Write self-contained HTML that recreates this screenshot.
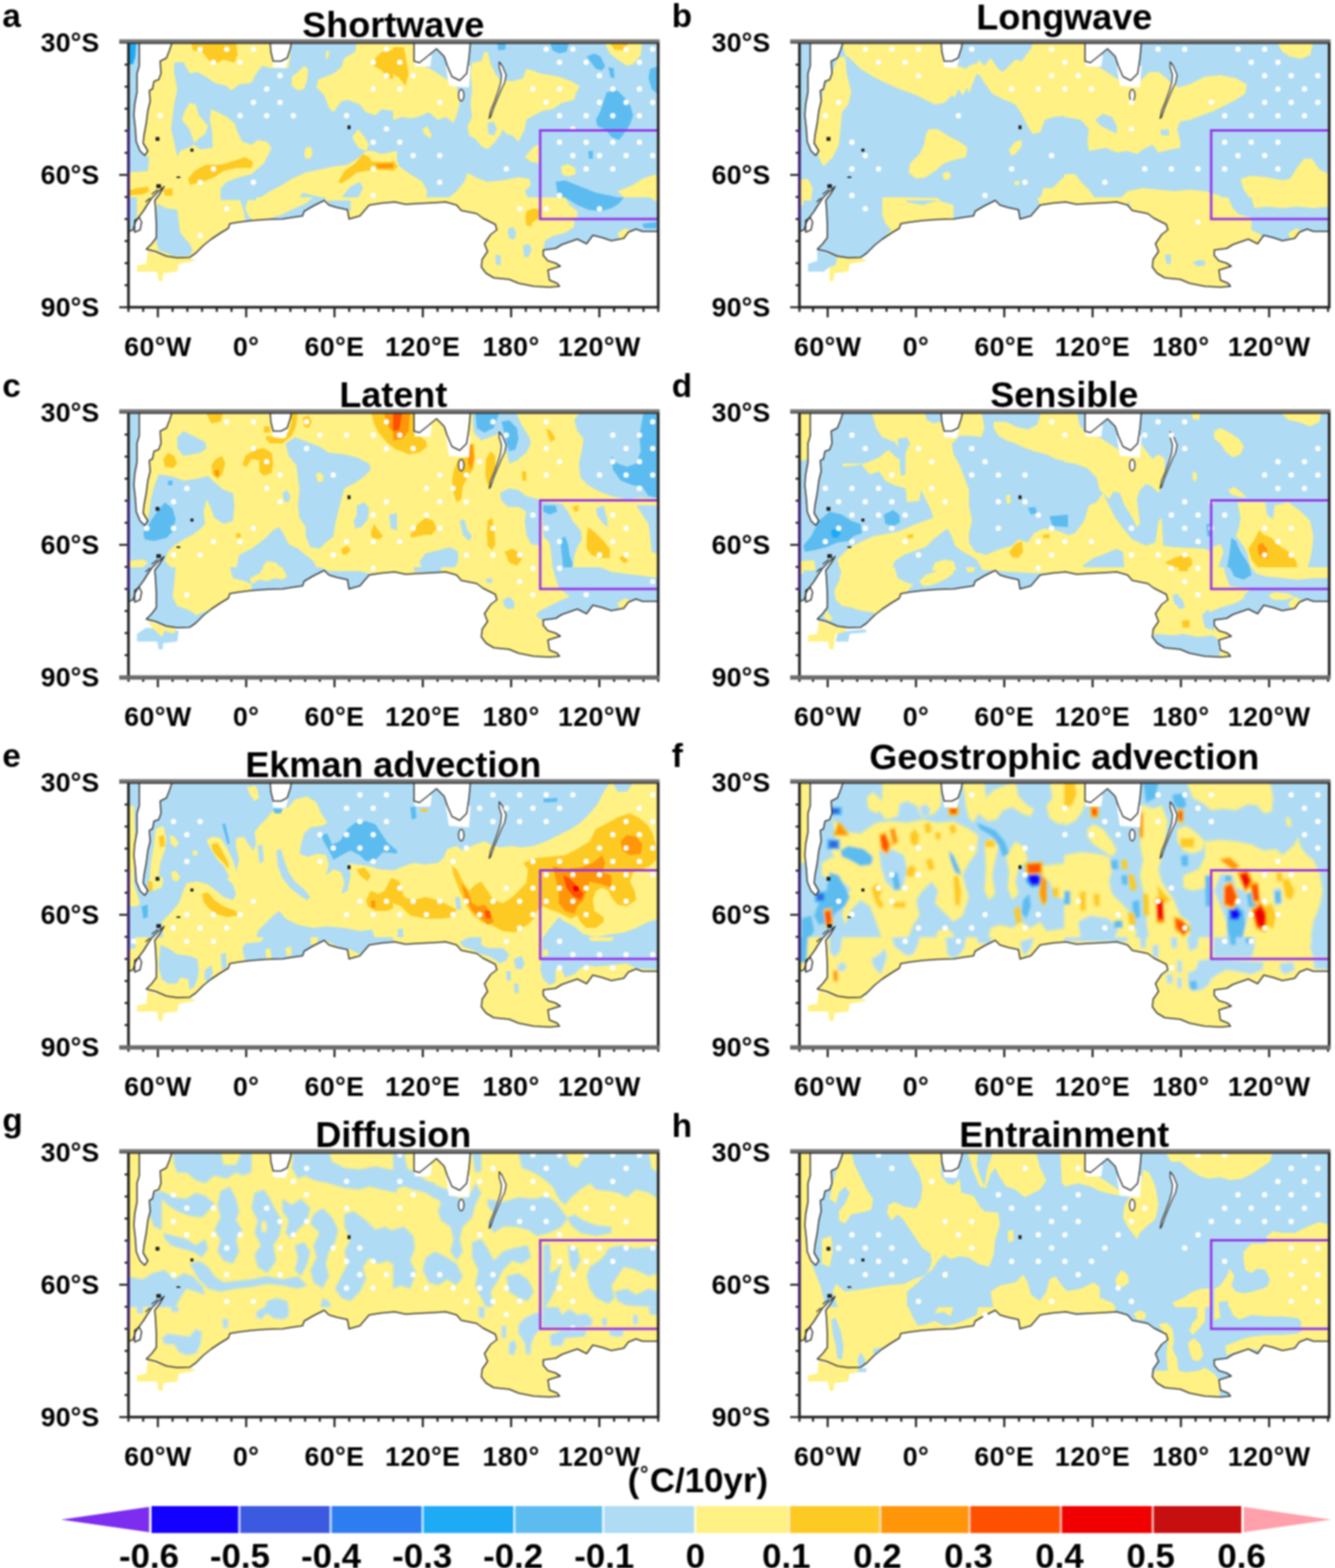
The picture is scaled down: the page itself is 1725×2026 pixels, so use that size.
<!DOCTYPE html>
<html lang="en"><head><meta charset="utf-8"><title>Heat budget trends</title>
<style>html,body{margin:0;padding:0;background:#fff}body{width:1725px;height:2026px;overflow:hidden}svg{display:block;filter:blur(0.85px)}text{font-family:"Liberation Sans",sans-serif;font-weight:bold;fill:#000}.t{font-size:34.5px;letter-spacing:0.6px}.ti{font-size:46.5px}.l{font-size:43px}.cb{font-size:45px}</style>
</head><body>
<svg width="1725" height="2026" viewBox="0 0 1725 2026">
<defs>
<clipPath id="clip"><rect x="0" y="0" width="684.5" height="342"/></clipPath>
<filter id="blf" x="-5%" y="-5%" width="110%" height="110%"><feGaussianBlur stdDeviation="1.8"/></filter>
<filter id="blg" x="-5%" y="-5%" width="110%" height="110%"><feGaussianBlur stdDeviation="1.2"/></filter>
<g id="land">
<g fill="#fff" stroke="none">
<polygon points="-2,245 6,242 9,232 13,226 19,218 24,210 30,201 38,193 46,186 40,196 34,204 35,215 36,235 36,252 30,260 23,267 35,270 49,276 63,278 79,277.6 87,272 97,262 107,254 119,246 129,240 131,234 143,232 159,230 179,228.4 199,228 211,226 225,224 227,218 239,211 253,204 259,210 269,213 283,216 285,228 299,224 311,210 327,207.6 344,206 358,209 374,208 394,207 410,206 424,210 430,217 450,221 458,227 474,235 476,242 468,248 460,260 464,270 457,280 456,290 462,298 472,304 492,306 504,311 524,315 544,316 557,315 554,311 544,307 542,294 558,289 552,285 542,282 536,275 536,268 552,266 560,261 580,254 592,260 600,249 612,252 624,256 640,253 646,245 656,241 664,244 682,244 688,244 688,345 -2,345"/>
<polygon points="57,-2 53,10 49,20 41,24 42,40 39,48 33,50 31,60 27,62 28,76 25,88 23,104 20,120 19,130 25,140 21,146 21,146 15,140 10,128 9,112 7,94 8,80 11,64 11,40 14,30 14,-2"/>
<polygon points="183,-2 184,12 187,24 197,24 205,20 209,8 211,-2"/>
<polygon points="184,10 187,32 203,33 207,20"/>
<polygon points="369,-2 369,24 376,26 386,18 398,8 408,18 412,30 418,44 428,49 437,40 440,20 442,-2"/>
<polygon points="369,20 370,31 390,31 392,16"/>
<polygon points="410,30 414,56 440,58 442,30"/>
<polygon points="479,25 483,30 488,42 486,52 482,60 477,72 472,84 468,96 466,98 468,88 473,76 478,62 481,52 482,42 479,32"/>
<ellipse cx="430" cy="68" rx="4" ry="8"/>
</g>
</g>
<g id="coast">
<g fill="none" stroke="#2a2a2a" stroke-width="1.55" stroke-linejoin="round">
<polyline points="-2,245 6,242 9,232 13,226 19,218 24,210 30,201 38,193 46,186 40,196 34,204 35,215 36,235 36,252 30,260 23,267 35,270 49,276 63,278 79,277.6 87,272 97,262 107,254 119,246 129,240 131,234 143,232 159,230 179,228.4 199,228 211,226 225,224 227,218 239,211 253,204 259,210 269,213 283,216 285,228 299,224 311,210 327,207.6 344,206 358,209 374,208 394,207 410,206 424,210 430,217 450,221 458,227 474,235 476,242 468,248 460,260 464,270 457,280 456,290 462,298 472,304 492,306 504,311 524,315 544,316 557,315 554,311 544,307 542,294 558,289 552,285 542,282 536,275 536,268 552,266 560,261 580,254 592,260 600,249 612,252 624,256 640,253 646,245 656,241 664,244 682,244 688,244"/>
<polyline points="57,-2 53,10 49,20 41,24 42,40 39,48 33,50 31,60 27,62 28,76 25,88 23,104 20,120 19,130 25,140 21,146"/>
<polyline points="14,-2 14,30 11,40 11,64 8,80 7,94 9,112 10,128 15,140 21,146"/>
<polyline points="183,-2 184,12 187,24 197,24 205,20 209,8 211,-2"/>
<polyline points="369,-2 369,24 376,26 386,18 398,8 408,18 412,30 418,44 428,49 437,40 440,20 442,-2"/>
<polygon points="479,25 483,30 488,42 486,52 482,60 477,72 472,84 468,96 466,98 468,88 473,76 478,62 481,52 482,42 479,32" stroke-width="1.3"/>
<ellipse cx="430" cy="68" rx="3.5" ry="7.5" stroke-width="1.4"/>
<path d="M8,230 l6,-4 3,6 -2,10 -7,3 z M22,206 l6,-5 M30,196 l8,-6"/>
</g>
<g fill="#222"><rect x="35" y="122" width="5" height="5"/><rect x="80" y="137" width="4" height="4"/><rect x="283" y="107" width="4" height="5"/><rect x="62" y="173" width="5" height="2"/><rect x="36" y="183" width="6" height="5"/></g>
</g>
<g id="ax0"><path d="M0.0 342 v6 M19.0 342 v6 M38.0 342 v13 M57.0 342 v6 M76.1 342 v6 M95.1 342 v6 M114.1 342 v6 M133.1 342 v6 M152.1 342 v13 M171.1 342 v6 M190.1 342 v6 M209.2 342 v6 M228.2 342 v6 M247.2 342 v6 M266.2 342 v13 M285.2 342 v6 M304.2 342 v6 M323.2 342 v6 M342.2 342 v6 M361.3 342 v6 M380.3 342 v13 M399.3 342 v6 M418.3 342 v6 M437.3 342 v6 M456.3 342 v6 M475.3 342 v6 M494.4 342 v13 M513.4 342 v6 M532.4 342 v6 M551.4 342 v6 M570.4 342 v6 M589.4 342 v6 M608.4 342 v13 M627.5 342 v6 M646.5 342 v6 M665.5 342 v6 M684.5 342 v6 M0 0.0 h-12 M0 28.5 h-5 M0 57.0 h-5 M0 85.5 h-5 M0 114.0 h-5 M0 142.5 h-5 M0 171.0 h-12 M0 199.5 h-5 M0 228.0 h-5 M0 256.5 h-5 M0 285.0 h-5 M0 313.5 h-5 M0 342.0 h-12" stroke="#1c1c1c" stroke-width="2.6" fill="none"/>
<rect x="0" y="0" width="684.5" height="342" fill="none" stroke="#222" stroke-width="3.4"/>
<rect x="-12" y="-4.2" width="698.2" height="4.4" fill="#757575"/>
</g>
<g id="ax1"><path d="M0.0 342 v6 M17.5 342 v6 M36.5 342 v13 M55.5 342 v6 M74.6 342 v6 M93.6 342 v6 M112.6 342 v6 M131.6 342 v6 M150.6 342 v13 M169.6 342 v6 M188.6 342 v6 M207.7 342 v6 M226.7 342 v6 M245.7 342 v6 M264.7 342 v13 M283.7 342 v6 M302.7 342 v6 M321.7 342 v6 M340.8 342 v6 M359.8 342 v6 M378.8 342 v13 M397.8 342 v6 M416.8 342 v6 M435.8 342 v6 M454.8 342 v6 M473.8 342 v6 M492.9 342 v13 M511.9 342 v6 M530.9 342 v6 M549.9 342 v6 M568.9 342 v6 M587.9 342 v6 M606.9 342 v13 M626.0 342 v6 M645.0 342 v6 M664.0 342 v6 M683.0 342 v6 M0 0.0 h-12 M0 28.5 h-5 M0 57.0 h-5 M0 85.5 h-5 M0 114.0 h-5 M0 142.5 h-5 M0 171.0 h-12 M0 199.5 h-5 M0 228.0 h-5 M0 256.5 h-5 M0 285.0 h-5 M0 313.5 h-5 M0 342.0 h-12" stroke="#1c1c1c" stroke-width="2.6" fill="none"/>
<rect x="0" y="0" width="684.5" height="342" fill="none" stroke="#222" stroke-width="3.4"/>
<rect x="-12" y="-4.2" width="698.2" height="4.4" fill="#757575"/>
</g>
<g id="box"><path d="M683 113.5H532V228H683" fill="none" stroke="#962ee8" stroke-width="3"/><path d="M0 112 V230" stroke="#47287f" stroke-width="3.2" fill="none"/></g>
</defs>
<g transform="translate(166 55)">
<g clip-path="url(#clip)">
<rect x="0" y="0" width="685" height="342" fill="#afdcf4"/>
<g>
<path fill="#fff183" d="M-3.0 -2.0L347.0 -2.0L347.0 204.0L-3.0 204.0Z"/>
<path fill="#afdcf4" d="M59.0 26.0L71.0 25.0L79.0 40.0L89.0 38.0L103.0 46.0L111.0 52.0L127.0 56.0L133.0 62.0L143.0 54.0L159.0 52.0L165.0 40.0L173.0 30.0L183.0 33.0L207.0 33.0L211.0 -2.0L295.0 -2.0L293.0 12.0L279.0 20.0L275.0 32.0L265.0 40.0L245.0 48.0L243.0 58.0L253.0 68.0L259.0 84.0L265.0 90.0L275.0 76.0L283.0 74.0L299.0 80.0L307.0 90.0L319.0 94.0L327.0 86.0L339.0 88.0L347.0 88.0L347.0 140.0L327.0 144.0L315.0 140.0L307.0 140.0L299.0 148.0L283.0 158.0L265.0 160.0L247.0 164.0L229.0 168.0L211.0 176.0L199.0 184.0L183.0 192.0L171.0 200.0L165.0 204.0L119.0 204.0L119.0 188.0L127.0 180.0L143.0 174.0L159.0 170.0L175.0 156.0L179.0 148.0L185.0 136.0L179.0 128.0L167.0 126.0L159.0 132.0L147.0 128.0L141.0 116.0L137.0 104.0L127.0 96.0L119.0 92.0L107.0 86.0L105.0 100.0L108.0 114.0L109.0 136.0L93.0 138.0L85.0 132.0L77.0 136.0L67.0 140.0L63.0 148.0L59.0 128.0L55.0 112.0L57.0 96.0L59.0 80.0L63.0 60.0L59.0 40.0Z"/>
<path fill="#fff183" d="M79.0 78.0L87.0 80.0L91.0 94.0L103.0 108.0L99.0 118.0L91.0 124.0L85.0 130.0L79.0 112.0L69.0 100.0L73.0 88.0ZM211.0 44.0L219.0 38.0L227.0 30.0L232.0 34.0L231.0 48.0L227.0 60.0L219.0 62.0L211.0 56.0ZM229.0 136.0L235.0 134.0L238.0 142.0L235.0 150.0L229.0 150.0L227.0 143.0ZM289.0 122.0L297.0 112.0L305.0 122.0L311.0 132.0L307.0 140.0L297.0 136.0ZM255.0 12.0L259.0 10.0L259.0 18.0L255.0 22.0Z"/>
<path fill="#afdcf4" d="M-3.0 -2.0L14.0 -2.0L13.0 40.0L9.0 80.0L8.0 112.0L11.0 130.0L21.0 146.0L27.0 148.0L25.0 166.0L-3.0 168.0Z"/>
<path fill="#1eaaf5" d="M-3.0 -2.0L10.0 -2.0L9.0 18.0L6.0 28.0L-3.0 28.0Z"/>
<path fill="#afdcf4" d="M219.0 204.0L225.0 194.0L249.0 200.0L275.0 200.0L287.0 186.0L299.0 180.0L303.0 188.0L295.0 204.0Z"/>
<path fill="#fdca24" d="M81.0 -2.0L139.0 -2.0L141.0 16.0L137.0 26.0L123.0 22.0L111.0 28.0L103.0 22.0L95.0 12.0L83.0 10.0ZM319.0 20.0L327.0 12.0L347.0 8.0L347.0 48.0L335.0 46.0L327.0 36.0L317.0 30.0ZM77.0 176.0L85.0 166.0L99.0 158.0L119.0 158.0L139.0 152.0L151.0 148.0L161.0 154.0L159.0 162.0L139.0 162.0L123.0 166.0L111.0 174.0L95.0 180.0L79.0 184.0ZM271.0 180.0L279.0 166.0L293.0 156.0L303.0 144.0L311.0 148.0L315.0 154.0L347.0 154.0L347.0 166.0L319.0 164.0L307.0 166.0L295.0 168.0L285.0 176.0L275.0 182.0Z"/>
<path fill="#ff960a" d="M319.0 157.0L347.0 156.0L347.0 162.0L323.0 162.4Z"/>
<path fill="#fdca24" d="M-3.0 192.0L11.0 188.0L25.0 186.0L27.0 192.0L19.0 196.0L-3.0 198.0ZM45.0 190.0L57.0 188.0L57.0 198.0L47.0 198.0Z"/>
<path fill="#fff183" d="M342.0 -2.0L370.0 -2.0L370.0 26.0L390.0 34.0L412.0 48.0L424.0 56.0L428.0 80.0L424.0 94.0L420.0 104.0L410.0 96.0L400.0 100.0L388.0 90.0L374.0 96.0L364.0 98.0L354.0 96.0L342.0 100.0Z"/>
<path fill="#fdca24" d="M342.0 6.0L356.0 6.0L362.0 40.0L358.0 56.0L350.0 46.0L342.0 40.0Z"/>
<path fill="#fff183" d="M444.0 26.0L456.0 24.0L460.0 12.0L464.0 12.0L468.0 28.0L474.0 40.0L480.0 48.0L496.0 50.0L510.0 46.0L514.0 34.0L522.0 36.0L532.0 40.0L556.0 44.0L572.0 50.0L583.0 56.0L578.0 66.0L576.0 74.0L560.0 78.0L548.0 86.0L536.0 88.0L520.0 96.0L514.0 100.0L512.0 112.0L504.0 128.0L496.0 120.0L488.0 118.0L484.0 112.0L480.0 120.0L474.0 128.0L464.0 138.0L456.0 134.0L448.0 124.0L440.0 120.0L438.0 108.0L444.0 96.0L442.0 80.0L444.0 60.0L442.0 40.0Z"/>
<path fill="#afdcf4" d="M464.0 104.0L472.0 102.0L476.0 112.0L472.0 120.0L465.0 118.0Z"/>
<path fill="#fff183" d="M380.0 112.0L386.0 108.0L392.0 120.0L390.0 124.0L382.0 118.0ZM512.0 148.0L524.0 134.0L530.0 132.0L530.0 156.0L520.0 154.0ZM559.0 160.0L568.0 157.0L577.0 162.0L578.0 170.0L568.0 173.0L560.0 170.0ZM342.0 140.0L350.0 160.0L364.0 170.0L380.0 180.0L386.0 192.0L384.0 204.0L342.0 204.0Z"/>
<path fill="#fdca24" d="M342.0 152.0L348.0 160.0L342.0 166.0Z"/>
<path fill="#fff183" d="M410.0 204.0L424.0 192.0L434.0 180.0L438.0 168.0L448.0 174.0L464.0 180.0L484.0 178.0L504.0 174.0L518.0 176.0L520.0 184.0L512.0 192.0L518.0 204.0ZM632.0 192.0L652.0 184.0L664.0 176.0L682.0 170.0L686.0 204.0L644.0 204.0ZM614.0 -2.0L664.0 -2.0L662.0 16.0L652.0 28.0L644.0 30.0L632.0 22.0L622.0 14.0Z"/>
<path fill="#fdca24" d="M620.0 -2.0L648.0 -2.0L640.0 10.0L628.0 9.0Z"/>
<path fill="#5cbcf0" d="M476.0 -2.0L488.0 -2.0L487.0 9.0L478.0 10.0ZM544.0 -2.0L570.0 -2.0L566.0 12.0L556.0 14.0L548.0 10.0ZM592.0 18.0L602.0 14.0L610.0 18.0L616.0 30.0L612.0 36.0L604.0 34.0L598.0 26.0ZM620.0 32.0L627.0 33.0L628.0 46.0L623.0 45.0ZM674.0 34.0L686.0 30.0L686.0 68.0L676.0 60.0L672.0 46.0ZM618.0 64.0L632.0 62.0L640.0 70.0L648.0 80.0L652.0 94.0L648.0 106.0L640.0 118.0L634.0 126.0L624.0 122.0L616.0 112.0L606.0 108.0L604.0 100.0L610.0 88.0L614.0 76.0ZM552.0 180.0L564.0 178.0L584.0 186.0L604.0 194.0L624.0 198.0L644.0 204.0L556.0 204.0L554.0 192.0ZM594.0 140.0L600.0 140.0L600.0 150.0L595.0 150.0Z"/>
<path fill="#fff183" d="M-3.0 200.0L347.0 200.0L347.0 406.0L-3.0 406.0Z"/>
<path fill="#afdcf4" d="M37.0 208.0L49.0 214.0L63.0 216.0L65.0 232.0L67.0 246.0L79.0 260.0L83.0 268.0L79.0 276.0L59.0 276.0L39.0 268.0L35.0 254.0L36.0 222.0ZM143.0 200.0L155.0 200.0L151.0 214.0L155.0 224.0L161.0 230.0L151.0 230.0L149.0 218.0ZM179.0 228.0L199.0 222.0L215.0 214.0L229.0 208.0L239.0 200.0L255.0 200.0L253.0 206.0L239.0 212.0L227.0 218.0L225.0 224.0L199.0 228.0ZM257.0 204.0L287.0 204.0L287.0 218.0L283.0 216.0L269.0 213.0L259.0 210.0ZM-3.0 200.0L11.0 200.0L11.0 222.0L7.0 242.0L-3.0 245.0ZM119.0 200.0L165.0 200.0L165.0 203.6L119.0 203.6Z"/>
<path fill="#fff183" d="M342.0 200.0L692.0 200.0L692.0 406.0L342.0 406.0Z"/>
<path fill="#afdcf4" d="M686.0 200.0L686.0 270.0L536.0 270.0L538.0 256.0L548.0 250.0L564.0 246.0L576.0 238.0L576.0 224.0L564.0 218.0L556.0 210.0L544.0 200.0Z"/>
<path fill="#fff183" d="M534.0 200.0L564.0 200.0L570.0 210.0L580.0 218.0L580.0 226.0L534.0 226.0Z"/>
<path fill="#5cbcf0" d="M640.0 200.0L634.0 208.0L624.0 214.0L610.0 218.0L594.0 216.0L580.0 210.0L564.0 200.0Z"/>
<path fill="#fff183" d="M674.0 200.0L686.0 200.0L686.0 208.0Z"/>
<path fill="#5cbcf0" d="M664.0 234.0L682.0 232.0L682.0 240.0L666.0 240.0Z"/>
<path fill="#afdcf4" d="M491.0 240.0L497.0 238.0L501.0 246.0L499.0 254.0L493.0 254.0L490.0 247.0ZM510.0 262.0L518.0 260.0L521.0 268.0L516.0 278.0L511.0 276.0ZM474.0 274.0L481.0 275.0L481.0 288.0L475.0 287.0Z"/>
<path fill="#fdca24" d="M514.0 218.0L524.0 214.0L531.0 216.0L530.0 228.0L522.0 232.0L520.0 238.0L514.0 236.0L513.0 226.0Z"/>
<path fill="#fff183" d="M632.0 246.0L642.0 240.0L650.0 244.0L644.0 254.0L634.0 254.0Z"/>
</g>
<use href="#land"/>
<path fill="#fff183" d="M25.0 269.0L49.0 277.0L79.0 278.0L87.0 282.0L65.0 286.0L63.0 296.0L45.0 298.0L44.0 308.0L39.0 308.0L37.0 296.0L11.0 296.0L11.0 288.0L23.0 286.0Z"/>
<use href="#coast"/>
<path d="M92.6 8.4h0M127.0 8.4h0M161.4 8.4h0M333.4 8.4h0M539.8 8.4h0M574.2 8.4h0M643.0 8.4h0M677.4 8.4h0M109.8 25.6h0M144.2 25.6h0M316.2 25.6h0M350.6 25.6h0M557.0 25.6h0M591.4 25.6h0M660.2 25.6h0M195.8 42.8h0M333.4 42.8h0M367.8 42.8h0M608.6 42.8h0M178.6 60.0h0M316.2 60.0h0M350.6 60.0h0M522.6 60.0h0M557.0 60.0h0M625.8 60.0h0M660.2 60.0h0M161.4 77.2h0M195.8 77.2h0M402.2 77.2h0M539.8 77.2h0M608.6 77.2h0M643.0 77.2h0M677.4 77.2h0M41.0 94.4h0M144.2 94.4h0M178.6 94.4h0M213.0 94.4h0M281.8 94.4h0M557.0 94.4h0M591.4 94.4h0M625.8 94.4h0M660.2 94.4h0M333.4 111.6h0M574.2 111.6h0M316.2 128.8h0M350.6 128.8h0M557.0 128.8h0M591.4 128.8h0M625.8 128.8h0M660.2 128.8h0M367.8 146.0h0M402.2 146.0h0M574.2 146.0h0M608.6 146.0h0M643.0 146.0h0M677.4 146.0h0M109.8 163.2h0M316.2 163.2h0M488.2 163.2h0M591.4 163.2h0M625.8 163.2h0M92.6 180.4h0M161.4 180.4h0M402.2 180.4h0M316.2 197.6h0M557.0 197.6h0M127.0 214.8h0M505.4 214.8h0M539.8 214.8h0M608.6 214.8h0M92.6 249.2h0" stroke="#fff" stroke-width="7" stroke-linecap="round" fill="none"/>
</g>
<use href="#ax0"/>
<use href="#box"/>
<text class="t" x="-37.5" y="11.6" text-anchor="end" style="letter-spacing:0.2px">30°S</text>
<text class="t" x="-37.5" y="182.6" text-anchor="end" style="letter-spacing:0.2px">60°S</text>
<text class="t" x="-37.5" y="353.6" text-anchor="end" style="letter-spacing:0.2px">90°S</text>
<text class="t" x="38.0" y="404.5" text-anchor="middle">60°W</text>
<text class="t" x="152.1" y="404.5" text-anchor="middle">0°</text>
<text class="t" x="266.2" y="404.5" text-anchor="middle">60°E</text>
<text class="t" x="380.3" y="404.5" text-anchor="middle">120°E</text>
<text class="t" x="494.4" y="404.5" text-anchor="middle">180°</text>
<text class="t" x="608.4" y="404.5" text-anchor="middle">120°W</text>
<text class="ti" x="342.2" y="-7" text-anchor="middle">Shortwave</text>
<text class="l" x="-163" y="-20">a</text>
</g>
<g transform="translate(1033 55)">
<g clip-path="url(#clip)">
<rect x="0" y="0" width="685" height="342" fill="#afdcf4"/>
<g>
<path fill="#fff183" d="M183.0 -2.0L187.0 30.0L205.0 30.0L215.0 34.0L219.0 30.0L231.0 26.0L229.0 40.0L225.0 50.0L219.0 66.0L217.0 58.0L211.0 68.0L205.0 60.0L201.0 71.0L197.0 68.0L187.0 78.0L175.0 80.0L163.0 74.0L151.0 68.0L129.0 60.0L111.0 52.0L95.0 44.0L79.0 34.0L65.0 20.0L59.0 16.0L55.0 -2.0ZM231.0 22.0L239.0 30.0L247.0 20.0L257.0 34.0L263.0 38.0L279.0 22.0L287.0 24.0L299.0 8.0L303.0 -2.0L347.0 -2.0L347.0 94.0L329.0 96.0L317.0 100.0L311.0 116.0L301.0 118.0L295.0 108.0L287.0 92.0L279.0 80.0L265.0 74.0L249.0 66.0L239.0 52.0L233.0 42.0L229.0 41.0ZM49.0 20.0L59.0 18.0L61.0 40.0L67.0 64.0L63.0 80.0L55.0 90.0L53.0 112.0L51.0 132.0L43.0 148.0L31.0 160.0L25.0 148.0L19.0 130.0L23.0 104.0L28.0 76.0L31.0 60.0L42.0 40.0ZM167.0 112.0L179.0 112.0L191.0 120.0L207.0 128.0L217.0 136.0L215.0 148.0L199.0 152.0L187.0 156.0L175.0 166.0L163.0 174.0L151.0 176.0L141.0 168.0L143.0 156.0L155.0 144.0L161.0 132.0L163.0 120.0ZM186.0 168.0L193.0 167.0L196.0 172.0L193.0 177.0L187.0 177.0L185.0 172.0ZM271.0 138.0L279.0 128.0L287.0 126.0L287.0 134.0L279.0 144.0L273.0 146.0ZM278.0 179.0L284.0 179.0L284.0 184.0L278.0 184.0ZM311.0 204.0L315.0 188.0L327.0 188.0L339.0 176.0L347.0 170.0L347.0 204.0ZM-3.0 178.0L11.0 176.0L17.0 188.0L15.0 204.0L-3.0 204.0ZM107.0 204.0L111.0 201.0L139.0 200.0L179.0 201.0L183.0 204.0ZM342.0 -2.0L369.0 -2.0L369.0 26.0L388.0 32.0L412.0 48.0L440.0 58.0L440.0 50.0L452.0 38.0L464.0 38.0L474.0 46.0L480.0 52.0L490.0 58.0L504.0 54.0L524.0 44.0L544.0 42.0L564.0 46.0L578.0 54.0L576.0 66.0L564.0 74.0L552.0 80.0L536.0 88.0L520.0 94.0L504.0 100.0L492.0 102.0L488.0 112.0L492.0 128.0L492.0 136.0L480.0 138.0L464.0 142.0L456.0 132.0L444.0 138.0L436.0 144.0L424.0 140.0L410.0 142.0L396.0 136.0L374.0 140.0L372.0 128.0L374.0 112.0L364.0 100.0L342.0 96.0Z"/>
<path fill="#afdcf4" d="M382.0 100.0L392.0 92.0L404.0 96.0L410.0 108.0L410.0 118.0L402.0 114.0L390.0 108.0ZM466.0 113.0L477.0 112.0L478.0 120.0L468.0 120.0Z"/>
<path fill="#fff183" d="M664.0 -2.0L660.0 16.0L648.0 21.0L634.0 18.0L624.0 12.0L616.0 -2.0ZM342.0 170.0L356.0 170.0L364.0 180.0L374.0 190.0L384.0 204.0L342.0 204.0ZM412.0 204.0L424.0 192.0L444.0 188.0L464.0 190.0L484.0 192.0L504.0 190.0L524.0 192.0L544.0 198.0L544.0 204.0ZM570.0 176.0L584.0 172.0L604.0 174.0L624.0 178.0L634.0 176.0L644.0 160.0L652.0 150.0L662.0 150.0L672.0 164.0L684.0 170.0L684.0 204.0L584.0 204.0L574.0 190.0ZM135.0 200.0L139.0 206.0L159.0 210.0L179.0 204.0L199.0 210.0L199.0 230.0L159.0 234.0L139.0 242.0L111.0 262.0L91.0 272.0L99.0 262.0L111.0 250.0L119.0 242.0L111.0 234.0L107.0 222.0L107.0 200.0ZM-3.0 200.0L5.0 200.0L5.0 210.0L-3.0 212.0ZM307.0 200.0L347.0 200.0L347.0 208.0L311.0 210.0ZM342.0 200.0L424.0 200.0L424.0 210.0L410.0 208.0L374.0 210.0L358.0 211.0L342.0 208.0ZM424.0 200.0L584.0 200.0L584.0 212.0L684.0 212.0L684.0 200.0L554.0 200.0L560.0 214.0L568.0 222.0L584.0 226.0L584.0 242.0L596.0 248.0L604.0 262.0L544.0 322.0L452.0 322.0L452.0 242.0L428.0 214.0Z"/>
<path fill="#afdcf4" d="M584.0 200.0L588.0 214.0L604.0 212.0L624.0 214.0L644.0 212.0L664.0 214.0L684.0 212.0L684.0 246.0L644.0 262.0L604.0 262.0L596.0 248.0L584.0 242.0L584.0 226.0L568.0 222.0L560.0 214.0L554.0 200.0Z"/>
<path fill="#fff183" d="M584.0 200.0L684.0 200.0L684.0 212.0L664.0 214.0L644.0 212.0L624.0 214.0L604.0 212.0L588.0 214.0ZM632.0 246.0L642.0 240.0L650.0 244.0L644.0 254.0L634.0 254.0Z"/>
<path fill="#afdcf4" d="M472.0 274.0L480.0 274.0L480.0 286.0L474.0 286.0ZM508.0 284.0L516.0 281.0L524.0 282.0L524.0 288.0L514.0 289.0Z"/>
</g>
<use href="#land"/>
<path fill="#afdcf4" d="M23.0 268.0L49.0 277.0L47.0 288.0L39.0 290.0L31.0 296.0L11.0 296.0L11.0 286.0L23.0 282.0Z"/>
<path fill="#fff183" d="M49.0 277.0L79.0 278.0L87.0 282.0L65.0 286.0L63.0 296.0L45.0 298.0L44.0 308.0L39.0 308.0L39.0 290.0L47.0 288.0Z"/>
<use href="#coast"/>
<path d="M85.0 8.4h0M119.4 8.4h0M153.8 8.4h0M222.6 8.4h0M325.8 8.4h0M463.4 8.4h0M497.8 8.4h0M566.6 8.4h0M601.0 8.4h0M102.2 25.6h0M136.6 25.6h0M343.0 25.6h0M583.8 25.6h0M618.2 25.6h0M153.8 42.8h0M325.8 42.8h0M360.2 42.8h0M601.0 42.8h0M635.4 42.8h0M669.8 42.8h0M274.2 60.0h0M308.6 60.0h0M343.0 60.0h0M377.4 60.0h0M618.2 60.0h0M652.6 60.0h0M50.6 77.2h0M429.0 77.2h0M532.2 77.2h0M601.0 77.2h0M635.4 77.2h0M669.8 77.2h0M33.4 94.4h0M205.4 94.4h0M549.4 94.4h0M583.8 94.4h0M618.2 94.4h0M652.6 94.4h0M429.0 111.6h0M67.8 128.8h0M549.4 128.8h0M583.8 128.8h0M618.2 128.8h0M85.0 146.0h0M325.8 146.0h0M566.6 146.0h0M601.0 146.0h0M67.8 163.2h0M102.2 163.2h0M274.2 163.2h0M446.2 163.2h0M480.6 163.2h0M515.0 163.2h0M549.4 163.2h0M618.2 163.2h0M291.4 180.4h0M394.6 180.4h0M67.8 197.6h0M239.8 197.6h0M85.0 214.8h0M515.0 232.0h0" stroke="#fff" stroke-width="7" stroke-linecap="round" fill="none"/>
</g>
<use href="#ax1"/>
<use href="#box"/>
<text class="t" x="-37.5" y="11.6" text-anchor="end" style="letter-spacing:0.2px">30°S</text>
<text class="t" x="-37.5" y="182.6" text-anchor="end" style="letter-spacing:0.2px">60°S</text>
<text class="t" x="-37.5" y="353.6" text-anchor="end" style="letter-spacing:0.2px">90°S</text>
<text class="t" x="36.5" y="404.5" text-anchor="middle">60°W</text>
<text class="t" x="150.6" y="404.5" text-anchor="middle">0°</text>
<text class="t" x="264.7" y="404.5" text-anchor="middle">60°E</text>
<text class="t" x="378.8" y="404.5" text-anchor="middle">120°E</text>
<text class="t" x="492.9" y="404.5" text-anchor="middle">180°</text>
<text class="t" x="606.9" y="404.5" text-anchor="middle">120°W</text>
<text class="ti" x="342.2" y="-17" text-anchor="middle">Longwave</text>
<text class="l" x="-165" y="-20">b</text>
</g>
<g transform="translate(166 533)">
<g clip-path="url(#clip)">
<rect x="0" y="0" width="685" height="342" fill="#fff183"/>
<g>
<path fill="#afdcf4" d="M63.0 32.0L71.0 24.0L83.0 30.0L99.0 38.0L101.0 46.0L93.0 52.0L83.0 54.0L71.0 56.0L63.0 46.0ZM39.0 80.0L55.0 82.0L71.0 88.0L87.0 86.0L103.0 82.0L111.0 90.0L123.0 100.0L135.0 104.0L137.0 120.0L135.0 140.0L123.0 144.0L111.0 136.0L105.0 120.0L101.0 112.0L97.0 128.0L99.0 144.0L91.0 152.0L83.0 158.0L71.0 164.0L59.0 172.0L51.0 180.0L47.0 192.0L59.0 204.0L-3.0 204.0L-3.0 -2.0L14.0 -2.0L13.0 40.0L9.0 80.0L8.0 112.0L11.0 130.0L21.0 146.0L25.0 140.0L29.0 112.0L33.0 96.0Z"/>
<path fill="#5cbcf0" d="M19.0 156.0L29.0 140.0L37.0 128.0L47.0 116.0L57.0 124.0L61.0 138.0L57.0 154.0L49.0 162.0L33.0 166.0L21.0 164.0ZM51.0 88.0L57.0 88.0L57.0 94.0L51.0 94.0Z"/>
<path fill="#fff183" d="M-3.0 192.0L19.0 190.0L25.0 194.0L19.0 200.0L-3.0 200.0Z"/>
<path fill="#afdcf4" d="M203.0 40.0L215.0 32.0L231.0 38.0L247.0 44.0L259.0 52.0L279.0 54.0L295.0 58.0L311.0 66.0L313.0 74.0L303.0 84.0L291.0 92.0L279.0 98.0L275.0 112.0L271.0 128.0L267.0 144.0L265.0 160.0L255.0 168.0L247.0 176.0L235.0 174.0L229.0 160.0L229.0 148.0L221.0 136.0L219.0 120.0L221.0 100.0L219.0 84.0L217.0 68.0L207.0 56.0Z"/>
<path fill="#fff183" d="M242.0 80.0L247.0 77.0L252.0 82.0L251.0 89.0L245.0 90.0Z"/>
<path fill="#afdcf4" d="M199.0 104.0L205.0 100.0L209.0 108.0L207.0 116.0L201.0 115.0ZM139.0 204.0L143.0 184.0L159.0 176.0L175.0 164.0L187.0 152.0L195.0 148.0L201.0 158.0L207.0 170.0L219.0 176.0L229.0 184.0L239.0 192.0L245.0 204.0L199.0 204.0L191.0 194.0L179.0 192.0L169.0 204.0ZM295.0 120.0L305.0 116.0L311.0 124.0L309.0 138.0L301.0 148.0L293.0 150.0L291.0 140.0L295.0 132.0ZM337.0 132.0L347.0 130.0L347.0 152.0L339.0 150.0Z"/>
<path fill="#fdca24" d="M99.0 -2.0L123.0 -2.0L119.0 12.0L107.0 14.0ZM207.0 -2.0L219.0 -2.0L217.0 16.0L211.0 30.0L199.0 40.0L183.0 40.0L177.0 34.0L179.0 30.0L199.0 34.0L207.0 24.0L211.0 12.0ZM175.0 18.0L183.0 18.0L183.0 26.0L175.0 26.0ZM225.0 6.0L233.0 4.0L237.0 12.0L233.0 20.0L227.0 18.0ZM313.0 -2.0L347.0 -2.0L347.0 48.0L335.0 40.0L323.0 26.0L317.0 14.0Z"/>
<path fill="#ff960a" d="M329.0 -2.0L347.0 -2.0L347.0 30.0L337.0 20.0Z"/>
<path fill="#fdca24" d="M45.0 60.0L51.0 52.0L59.0 56.0L63.0 66.0L57.0 72.0L47.0 70.0ZM107.0 68.0L113.0 60.0L121.0 56.0L125.0 66.0L121.0 80.0L115.0 86.0L109.0 80.0Z"/>
<path fill="#ff960a" d="M111.0 75.0L117.0 74.0L117.0 82.0L112.0 82.0Z"/>
<path fill="#fdca24" d="M147.0 68.0L151.0 56.0L163.0 48.0L175.0 46.0L185.0 52.0L187.0 66.0L185.0 78.0L175.0 82.0L169.0 76.0L169.0 62.0L159.0 60.0L153.0 70.0ZM313.0 156.0L317.0 144.0L323.0 152.0L329.0 160.0L323.0 164.0L315.0 162.0ZM275.0 176.0L283.0 172.0L287.0 178.0L281.0 184.0L276.0 183.0ZM139.0 156.0L145.0 156.0L145.0 162.0L139.0 162.0Z"/>
<path fill="#afdcf4" d="M444.0 -2.0L500.0 -2.0L508.0 16.0L518.0 32.0L520.0 40.0L514.0 52.0L502.0 62.0L492.0 66.0L488.0 48.0L482.0 26.0L472.0 30.0L456.0 36.0L446.0 26.0Z"/>
<path fill="#5cbcf0" d="M448.0 -2.0L480.0 -2.0L472.0 20.0L460.0 26.0L450.0 20.0ZM482.0 12.0L492.0 10.0L502.0 20.0L504.0 34.0L500.0 48.0L492.0 50.0L488.0 36.0Z"/>
<path fill="#afdcf4" d="M576.0 10.0L584.0 -2.0L692.0 -2.0L692.0 112.0L664.0 110.0L644.0 112.0L624.0 108.0L608.0 102.0L594.0 94.0L584.0 84.0L582.0 66.0L586.0 48.0L588.0 34.0L580.0 24.0Z"/>
<path fill="#5cbcf0" d="M666.0 -2.0L692.0 -2.0L692.0 112.0L672.0 108.0L664.0 96.0L652.0 94.0L636.0 88.0L626.0 74.0L624.0 56.0L632.0 66.0L644.0 70.0L656.0 66.0L662.0 50.0L660.0 30.0Z"/>
<path fill="#afdcf4" d="M480.0 104.0L492.0 98.0L504.0 100.0L514.0 108.0L530.0 112.0L532.0 124.0L532.0 172.0L520.0 170.0L514.0 158.0L512.0 140.0L514.0 128.0L504.0 122.0L490.0 122.0L482.0 114.0ZM534.0 116.0L560.0 118.0L568.0 128.0L574.0 140.0L584.0 152.0L586.0 164.0L580.0 174.0L576.0 186.0L574.0 204.0L548.0 204.0L546.0 180.0L544.0 168.0L536.0 160.0Z"/>
<path fill="#5cbcf0" d="M536.0 120.0L552.0 120.0L554.0 128.0L544.0 132.0L536.0 128.0ZM558.0 164.0L564.0 160.0L568.0 170.0L570.0 184.0L574.0 196.0L572.0 204.0L562.0 204.0L560.0 184.0Z"/>
<path fill="#afdcf4" d="M604.0 124.0L614.0 120.0L618.0 136.0L620.0 148.0L614.0 144.0L606.0 134.0ZM656.0 120.0L686.0 120.0L686.0 184.0L676.0 180.0L674.0 160.0L672.0 144.0L664.0 132.0ZM376.0 192.0L384.0 182.0L400.0 178.0L416.0 174.0L426.0 180.0L426.0 192.0L420.0 204.0L380.0 204.0ZM428.0 140.0L434.0 138.0L438.0 152.0L444.0 160.0L440.0 166.0L432.0 158.0Z"/>
<path fill="#fdca24" d="M342.0 -2.0L370.0 -2.0L370.0 26.0L384.0 36.0L386.0 44.0L376.0 52.0L362.0 54.0L352.0 50.0L342.0 46.0Z"/>
<path fill="#ff960a" d="M342.0 -2.0L364.0 -2.0L362.0 24.0L354.0 34.0L342.0 36.0Z"/>
<path fill="#ff5000" d="M342.0 -2.0L354.0 -2.0L350.0 22.0L342.0 24.0Z"/>
<path fill="#fdca24" d="M420.0 76.0L426.0 60.0L436.0 58.0L440.0 40.0L446.0 40.0L448.0 56.0L446.0 72.0L438.0 84.0L432.0 96.0L430.0 112.0L424.0 116.0L420.0 104.0L418.0 88.0Z"/>
<path fill="#ff960a" d="M439.0 42.0L445.0 42.0L446.0 60.0L443.0 74.0L439.0 66.0Z"/>
<path fill="#fdca24" d="M462.0 60.0L468.0 50.0L474.0 56.0L474.0 76.0L470.0 90.0L464.0 94.0L461.0 80.0ZM540.0 20.0L546.0 24.0L552.0 34.0L546.0 38.0L542.0 30.0ZM508.0 76.0L514.0 76.0L514.0 88.0L509.0 88.0ZM374.0 144.0L384.0 136.0L394.0 140.0L398.0 150.0L392.0 158.0L382.0 158.0L366.0 162.0L364.0 158.0ZM464.0 140.0L470.0 136.0L473.0 152.0L474.0 170.0L470.0 178.0L464.0 172.0L463.0 156.0ZM486.0 180.0L496.0 176.0L506.0 182.0L508.0 190.0L502.0 198.0L492.0 194.0ZM594.0 148.0L604.0 156.0L614.0 166.0L622.0 176.0L622.0 188.0L610.0 188.0L598.0 184.0L592.0 176.0L592.0 160.0ZM634.0 188.0L640.0 184.0L646.0 192.0L640.0 195.0ZM574.0 121.0L582.0 120.0L581.0 128.0L576.0 128.0Z"/>
<path fill="#afdcf4" d="M-3.0 200.0L347.0 200.0L347.0 406.0L-3.0 406.0Z"/>
<path fill="#fff183" d="M61.0 200.0L131.0 200.0L135.0 214.0L151.0 218.0L159.0 222.0L159.0 230.0L143.0 232.0L131.0 234.0L129.0 240.0L107.0 254.0L87.0 262.0L83.0 258.0L75.0 254.0L63.0 250.0L57.0 238.0L59.0 222.0ZM157.0 214.0L169.0 208.0L175.0 200.0L199.0 200.0L205.0 212.0L199.0 216.0L189.0 214.0L179.0 218.0L169.0 216.0L159.0 222.0ZM249.0 200.0L347.0 200.0L347.0 206.0L311.0 208.0L299.0 205.0L259.0 205.0ZM342.0 200.0L692.0 200.0L692.0 406.0L342.0 406.0Z"/>
<path fill="#afdcf4" d="M610.0 200.0L624.0 206.0L656.0 210.0L672.0 212.0L686.0 214.0L686.0 270.0L536.0 270.0L526.0 262.0L532.0 256.0L544.0 250.0L560.0 242.0L570.0 238.0L556.0 226.0L552.0 214.0L548.0 200.0ZM484.0 242.0L492.0 238.0L499.0 245.0L498.0 253.0L490.0 254.0L485.0 249.0ZM462.0 215.0L470.0 214.0L470.0 220.0L463.0 220.0ZM368.0 200.0L404.0 200.0L404.0 207.0L370.0 206.0Z"/>
<path fill="#fff183" d="M632.0 246.0L642.0 240.0L650.0 244.0L644.0 254.0L634.0 254.0Z"/>
</g>
<use href="#land"/>
<path fill="#afdcf4" d="M23.0 278.0L65.0 282.0L63.0 296.0L45.0 298.0L44.0 306.0L39.0 306.0L37.0 296.0L11.0 296.0L11.0 286.0Z"/>
<path fill="#fff183" d="M25.0 269.0L49.0 277.0L61.0 278.0L59.0 286.0L47.0 282.0L43.0 290.0L35.0 282.0L29.0 276.0Z"/>
<use href="#coast"/>
<path d="M127.0 12.0h0M161.4 12.0h0M230.2 12.0h0M333.4 12.0h0M471.0 12.0h0M539.8 12.0h0M677.4 12.0h0M247.4 29.2h0M281.8 29.2h0M316.2 29.2h0M350.6 29.2h0M488.2 29.2h0M625.8 29.2h0M660.2 29.2h0M161.4 46.4h0M230.2 46.4h0M333.4 46.4h0M367.8 46.4h0M539.8 46.4h0M643.0 46.4h0M677.4 46.4h0M178.6 63.6h0M453.8 63.6h0M557.0 63.6h0M625.8 63.6h0M660.2 63.6h0M195.8 80.8h0M264.6 80.8h0M402.2 80.8h0M436.6 80.8h0M539.8 80.8h0M608.6 80.8h0M643.0 80.8h0M677.4 80.8h0M75.4 98.0h0M178.6 98.0h0M385.0 98.0h0M419.4 98.0h0M660.2 98.0h0M58.2 115.2h0M195.8 115.2h0M333.4 115.2h0M402.2 115.2h0M436.6 115.2h0M316.2 132.4h0M385.0 132.4h0M522.6 132.4h0M625.8 132.4h0M23.8 149.6h0M58.2 149.6h0M161.4 149.6h0M367.8 149.6h0M402.2 149.6h0M471.0 149.6h0M539.8 149.6h0M643.0 149.6h0M109.8 166.8h0M144.2 166.8h0M281.8 166.8h0M316.2 166.8h0M350.6 166.8h0M557.0 166.8h0M625.8 166.8h0M58.2 184.0h0M92.6 184.0h0M264.6 184.0h0M436.6 184.0h0M471.0 184.0h0M505.4 184.0h0M608.6 184.0h0M643.0 184.0h0M316.2 201.2h0M522.6 201.2h0M557.0 201.2h0M505.4 218.4h0M677.4 218.4h0M75.4 235.6h0M522.6 235.6h0M591.4 235.6h0" stroke="#fff" stroke-width="7" stroke-linecap="round" fill="none"/>
</g>
<use href="#ax0"/>
<rect x="-12" y="339.6" width="698.2" height="5.6" fill="#6a6a6a"/>
<use href="#box"/>
<text class="t" x="-37.5" y="11.6" text-anchor="end" style="letter-spacing:0.2px">30°S</text>
<text class="t" x="-37.5" y="182.6" text-anchor="end" style="letter-spacing:0.2px">60°S</text>
<text class="t" x="-37.5" y="353.6" text-anchor="end" style="letter-spacing:0.2px">90°S</text>
<text class="t" x="38.0" y="404.5" text-anchor="middle">60°W</text>
<text class="t" x="152.1" y="404.5" text-anchor="middle">0°</text>
<text class="t" x="266.2" y="404.5" text-anchor="middle">60°E</text>
<text class="t" x="380.3" y="404.5" text-anchor="middle">120°E</text>
<text class="t" x="494.4" y="404.5" text-anchor="middle">180°</text>
<text class="t" x="608.4" y="404.5" text-anchor="middle">120°W</text>
<text class="ti" x="342.2" y="-7" text-anchor="middle">Latent</text>
<text class="l" x="-163" y="-20">c</text>
</g>
<g transform="translate(1033 533)">
<g clip-path="url(#clip)">
<rect x="0" y="0" width="685" height="342" fill="#afdcf4"/>
<g>
<path fill="#fff183" d="M-3.0 -2.0L14.0 -2.0L13.0 40.0L11.0 60.0L-3.0 64.0ZM235.0 -2.0L239.0 20.0L235.0 32.0L223.0 30.0L207.0 30.0L197.0 40.0L199.0 54.0L207.0 68.0L213.0 84.0L219.0 100.0L219.0 120.0L223.0 140.0L219.0 156.0L219.0 168.0L227.0 180.0L241.0 184.0L255.0 178.0L275.0 172.0L283.0 164.0L295.0 168.0L303.0 156.0L315.0 150.0L331.0 152.0L347.0 158.0L347.0 204.0L53.0 204.0L49.0 190.0L65.0 174.0L95.0 160.0L127.0 154.0L151.0 144.0L173.0 136.0L169.0 124.0L157.0 100.0L155.0 114.0L139.0 116.0L137.0 98.0L123.0 94.0L111.0 88.0L103.0 76.0L91.0 80.0L79.0 66.0L55.0 66.0L57.0 70.0L75.0 68.0L89.0 64.0L103.0 58.0L115.0 48.0L127.0 60.0L135.0 56.0L123.0 38.0L107.0 32.0L99.0 20.0L93.0 -2.0Z"/>
<path fill="#afdcf4" d="M119.0 204.0L123.0 192.0L135.0 184.0L151.0 178.0L163.0 174.0L173.0 164.0L183.0 156.0L191.0 150.0L197.0 160.0L201.0 172.0L211.0 180.0L219.0 184.0L229.0 190.0L237.0 204.0L203.0 204.0L199.0 192.0L187.0 190.0L175.0 194.0L171.0 204.0ZM161.0 -2.0L183.0 -2.0L183.0 12.0L173.0 14.0L165.0 10.0ZM127.0 34.0L139.0 32.0L143.0 40.0L137.0 52.0L137.0 80.0L131.0 82.0L129.0 60.0Z"/>
<path fill="#fff183" d="M251.0 12.0L267.0 12.0L279.0 18.0L295.0 22.0L307.0 16.0L313.0 -2.0L347.0 -2.0L347.0 64.0L331.0 60.0L319.0 54.0L303.0 50.0L287.0 44.0L279.0 40.0L267.0 36.0L257.0 30.0L251.0 20.0ZM267.0 107.0L272.0 106.0L273.0 117.0L268.0 118.0Z"/>
<path fill="#5cbcf0" d="M25.0 140.0L39.0 128.0L55.0 132.0L67.0 140.0L79.0 144.0L81.0 156.0L69.0 160.0L65.0 166.0L49.0 168.0L35.0 174.0L19.0 178.0L7.0 180.0L5.0 172.0L15.0 160.0L21.0 148.0Z"/>
<path fill="#1eaaf5" d="M41.0 152.0L49.0 150.0L53.0 156.0L49.0 162.0L42.0 161.0Z"/>
<path fill="#5cbcf0" d="M109.0 132.0L121.0 126.0L129.0 132.0L130.0 142.0L121.0 147.0L111.0 144.0ZM295.0 123.0L305.0 122.0L307.0 130.0L299.0 132.0ZM323.0 134.0L347.0 132.0L347.0 148.0L327.0 147.0Z"/>
<path fill="#fff183" d="M-3.0 192.0L19.0 191.0L21.0 204.0L-3.0 204.0Z"/>
<path fill="#fdca24" d="M139.0 158.0L147.0 157.0L147.0 162.0L140.0 162.4ZM271.0 180.0L279.0 170.0L287.0 166.0L289.0 180.0L283.0 188.0L275.0 187.0ZM314.0 158.0L323.0 157.0L323.0 162.4L315.0 162.4Z"/>
<path fill="#fff183" d="M342.0 -2.0L358.0 -2.0L362.0 16.0L369.0 26.0L388.0 32.0L412.0 48.0L428.0 56.0L440.0 54.0L442.0 40.0L448.0 50.0L456.0 60.0L464.0 54.0L472.0 60.0L472.0 80.0L468.0 96.0L464.0 104.0L456.0 96.0L448.0 92.0L440.0 100.0L436.0 112.0L438.0 128.0L440.0 144.0L436.0 148.0L428.0 132.0L420.0 120.0L414.0 104.0L406.0 102.0L400.0 112.0L388.0 100.0L384.0 84.0L372.0 72.0L356.0 66.0L342.0 64.0ZM342.0 160.0L356.0 156.0L368.0 140.0L374.0 120.0L384.0 116.0L392.0 104.0L402.0 124.0L408.0 136.0L420.0 152.0L430.0 164.0L448.0 172.0L460.0 168.0L464.0 140.0L468.0 136.0L470.0 172.0L484.0 174.0L524.0 176.0L532.0 180.0L532.0 204.0L420.0 204.0L418.0 180.0L410.0 176.0L396.0 182.0L380.0 188.0L368.0 196.0L364.0 204.0L342.0 204.0ZM536.0 24.0L544.0 20.0L556.0 26.0L568.0 34.0L574.0 44.0L570.0 54.0L560.0 58.0L550.0 50.0L544.0 40.0L536.0 34.0ZM508.0 78.0L512.0 76.0L514.0 84.0L511.0 90.0L508.0 86.0ZM554.0 100.0L562.0 96.0L572.0 104.0L578.0 110.0L568.0 109.0L558.0 106.0ZM620.0 -2.0L674.0 -2.0L672.0 12.0L660.0 18.0L644.0 12.0L632.0 10.0ZM506.0 -2.0L518.0 -2.0L516.0 10.0L508.0 8.0ZM566.0 116.0L602.0 116.0L604.0 132.0L612.0 138.0L614.0 120.0L632.0 116.0L648.0 128.0L660.0 140.0L664.0 160.0L662.0 180.0L656.0 204.0L584.0 204.0L578.0 180.0L572.0 170.0L564.0 160.0L568.0 148.0L570.0 136.0ZM534.0 174.0L544.0 170.0L548.0 180.0L544.0 192.0L540.0 204.0L534.0 204.0Z"/>
<path fill="#5cbcf0" d="M552.0 204.0L556.0 180.0L558.0 162.0L564.0 166.0L570.0 180.0L578.0 192.0L584.0 204.0ZM526.0 144.0L532.0 144.0L532.0 160.0L527.0 160.0Z"/>
<path fill="#fdca24" d="M580.0 176.0L588.0 164.0L594.0 152.0L600.0 158.0L610.0 162.0L620.0 172.0L632.0 180.0L642.0 192.0L644.0 204.0L596.0 204.0L584.0 190.0Z"/>
<path fill="#ff960a" d="M592.0 172.0L598.0 168.0L604.0 176.0L606.0 188.0L598.0 188.0L593.0 182.0Z"/>
<path fill="#fdca24" d="M472.0 194.0L484.0 188.0L496.0 184.0L506.0 188.0L508.0 196.0L500.0 204.0L484.0 200.0Z"/>
<path fill="#fff183" d="M55.0 200.0L123.0 200.0L127.0 214.0L139.0 220.0L147.0 222.0L139.0 232.0L131.0 234.0L129.0 240.0L107.0 254.0L99.0 260.0L93.0 258.0L79.0 256.0L67.0 252.0L55.0 250.0L47.0 242.0L45.0 230.0L51.0 218.0ZM155.0 218.0L163.0 210.0L179.0 204.0L199.0 200.0L199.0 208.0L191.0 214.0L179.0 220.0L167.0 224.0L159.0 224.0ZM215.0 200.0L227.0 200.0L225.0 206.0L217.0 206.0ZM247.0 200.0L347.0 200.0L347.0 207.0L311.0 208.0L259.0 205.0ZM31.0 264.0L35.0 256.0L43.0 266.0L39.0 270.0ZM-3.0 200.0L5.0 200.0L5.0 208.0L-3.0 210.0ZM342.0 200.0L692.0 200.0L692.0 406.0L342.0 406.0Z"/>
<path fill="#afdcf4" d="M584.0 200.0L590.0 208.0L604.0 212.0L624.0 214.0L644.0 216.0L664.0 214.0L686.0 214.0L686.0 230.0L644.0 230.0L624.0 228.0L584.0 228.0L556.0 224.0L552.0 214.0L548.0 200.0Z"/>
<path fill="#5cbcf0" d="M556.0 200.0L582.0 200.0L584.0 210.0L574.0 216.0L562.0 212.0Z"/>
<path fill="#afdcf4" d="M576.0 234.0L584.0 228.0L624.0 228.0L644.0 230.0L686.0 230.0L686.0 270.0L536.0 270.0L524.0 264.0L530.0 258.0L544.0 252.0L564.0 246.0L574.0 240.0Z"/>
<path fill="#fff183" d="M606.0 236.0L614.0 232.0L632.0 234.0L640.0 238.0L628.0 242.0L612.0 242.0ZM632.0 246.0L640.0 238.0L648.0 242.0L644.0 254.0L634.0 254.0Z"/>
<path fill="#afdcf4" d="M460.0 286.0L484.0 288.0L496.0 286.0L514.0 290.0L534.0 288.0L542.0 294.0L544.0 322.0L524.0 322.0L504.0 311.0L492.0 306.0L472.0 304.0L462.0 298.0L456.0 290.0ZM482.0 236.0L488.0 234.0L496.0 244.0L498.0 252.0L492.0 254.0L484.0 246.0ZM520.0 262.0L528.0 254.0L536.0 268.0L536.0 282.0L524.0 278.0Z"/>
<path fill="#fdca24" d="M494.0 269.0L504.0 268.0L504.0 278.0L495.0 278.0ZM490.0 200.0L502.0 200.0L502.0 205.0L490.0 205.0Z"/>
</g>
<use href="#land"/>
<path fill="#fff183" d="M25.0 269.0L49.0 277.0L61.0 279.0L59.0 284.0L47.0 286.0L45.0 296.0L44.0 306.0L39.0 306.0L37.0 296.0L11.0 296.0L11.0 288.0L23.0 286.0Z"/>
<path fill="#afdcf4" d="M49.0 286.0L63.0 282.0L85.0 280.0L87.0 284.0L65.0 286.0L63.0 296.0L47.0 296.0Z"/>
<use href="#coast"/>
<path d="M325.8 12.0h0M463.4 12.0h0M497.8 12.0h0M67.8 29.2h0M343.0 29.2h0M446.2 29.2h0M480.6 29.2h0M85.0 46.4h0M153.8 46.4h0M222.6 46.4h0M497.8 46.4h0M669.8 46.4h0M171.0 63.6h0M239.8 63.6h0M618.2 63.6h0M652.6 63.6h0M119.4 80.8h0M222.6 80.8h0M257.0 80.8h0M291.4 80.8h0M601.0 80.8h0M635.4 80.8h0M669.8 80.8h0M33.4 98.0h0M67.8 98.0h0M102.2 98.0h0M171.0 98.0h0M618.2 98.0h0M652.6 98.0h0M50.6 115.2h0M85.0 115.2h0M119.4 115.2h0M188.2 115.2h0M257.0 115.2h0M291.4 115.2h0M497.8 115.2h0M532.2 115.2h0M67.8 132.4h0M102.2 132.4h0M136.6 132.4h0M308.6 132.4h0M480.6 132.4h0M515.0 132.4h0M549.4 132.4h0M50.6 149.6h0M85.0 149.6h0M119.4 149.6h0M257.0 149.6h0M325.8 149.6h0M429.0 149.6h0M497.8 149.6h0M532.2 149.6h0M601.0 149.6h0M635.4 149.6h0M33.4 166.8h0M67.8 166.8h0M136.6 166.8h0M308.6 166.8h0M343.0 166.8h0M377.4 166.8h0M515.0 166.8h0M618.2 166.8h0M153.8 184.0h0M325.8 184.0h0M429.0 184.0h0M463.4 184.0h0M497.8 184.0h0M601.0 184.0h0M635.4 184.0h0M308.6 201.2h0M480.6 201.2h0M515.0 201.2h0M497.8 218.4h0M515.0 235.6h0" stroke="#fff" stroke-width="7" stroke-linecap="round" fill="none"/>
</g>
<use href="#ax1"/>
<rect x="-12" y="339.6" width="698.2" height="5.6" fill="#6a6a6a"/>
<use href="#box"/>
<text class="t" x="-37.5" y="11.6" text-anchor="end" style="letter-spacing:0.2px">30°S</text>
<text class="t" x="-37.5" y="182.6" text-anchor="end" style="letter-spacing:0.2px">60°S</text>
<text class="t" x="-37.5" y="353.6" text-anchor="end" style="letter-spacing:0.2px">90°S</text>
<text class="t" x="36.5" y="404.5" text-anchor="middle">60°W</text>
<text class="t" x="150.6" y="404.5" text-anchor="middle">0°</text>
<text class="t" x="264.7" y="404.5" text-anchor="middle">60°E</text>
<text class="t" x="378.8" y="404.5" text-anchor="middle">120°E</text>
<text class="t" x="492.9" y="404.5" text-anchor="middle">180°</text>
<text class="t" x="606.9" y="404.5" text-anchor="middle">120°W</text>
<text class="ti" x="342.2" y="-7" text-anchor="middle">Sensible</text>
<text class="l" x="-165" y="-20">d</text>
</g>
<g transform="translate(166 1011)">
<g clip-path="url(#clip)">
<rect x="0" y="0" width="685" height="342" fill="#afdcf4"/>
<g>
<path fill="#fff183" d="M-3.0 30.0L7.0 30.0L9.0 80.0L7.0 130.0L11.0 144.0L15.0 156.0L11.0 160.0L-3.0 160.0ZM35.0 60.0L45.0 56.0L49.0 72.0L47.0 88.0L41.0 104.0L39.0 120.0L45.0 124.0L43.0 136.0L31.0 140.0L27.0 128.0L29.0 104.0L33.0 80.0Z"/>
<path fill="#fdca24" d="M39.0 70.0L46.0 68.0L47.0 82.0L41.0 84.0ZM25.0 128.0L31.0 128.0L31.0 140.0L26.0 140.0Z"/>
<path fill="#fff183" d="M53.0 68.0L59.0 70.0L65.0 78.0L61.0 84.0L55.0 80.0ZM55.0 116.0L61.0 114.0L67.0 122.0L63.0 128.0L57.0 126.0ZM83.0 88.0L89.0 88.0L89.0 94.0L83.0 94.0ZM101.0 74.0L109.0 70.0L119.0 72.0L127.0 84.0L133.0 96.0L139.0 112.0L137.0 124.0L129.0 120.0L123.0 108.0L115.0 100.0L109.0 90.0L103.0 80.0Z"/>
<path fill="#fdca24" d="M107.0 80.0L115.0 78.0L121.0 88.0L129.0 104.0L129.0 112.0L123.0 104.0L115.0 96.0L109.0 88.0Z"/>
<path fill="#fff183" d="M153.0 6.0L165.0 4.0L169.0 20.0L163.0 24.0L157.0 16.0ZM139.0 72.0L149.0 70.0L155.0 80.0L161.0 88.0L165.0 80.0L163.0 64.0L169.0 56.0L179.0 46.0L185.0 38.0L207.0 32.0L215.0 22.0L231.0 18.0L243.0 26.0L249.0 40.0L257.0 52.0L251.0 56.0L235.0 58.0L227.0 66.0L223.0 80.0L221.0 92.0L231.0 96.0L245.0 92.0L255.0 94.0L259.0 106.0L255.0 120.0L265.0 112.0L275.0 116.0L279.0 130.0L275.0 144.0L283.0 140.0L287.0 120.0L285.0 104.0L295.0 106.0L311.0 108.0L323.0 112.0L347.0 114.0L347.0 204.0L319.0 204.0L315.0 190.0L299.0 192.0L279.0 188.0L255.0 186.0L239.0 188.0L219.0 184.0L203.0 176.0L195.0 166.0L187.0 172.0L175.0 184.0L167.0 192.0L165.0 204.0L45.0 204.0L43.0 180.0L55.0 168.0L65.0 156.0L71.0 140.0L75.0 130.0L89.0 128.0L103.0 132.0L111.0 138.0L123.0 148.0L135.0 152.0L139.0 144.0L135.0 132.0L127.0 124.0L139.0 116.0L143.0 100.0L139.0 84.0Z"/>
<path fill="#afdcf4" d="M191.0 88.0L197.0 86.0L201.0 100.0L207.0 116.0L215.0 128.0L227.0 138.0L235.0 148.0L231.0 152.0L221.0 146.0L209.0 136.0L199.0 124.0L193.0 108.0ZM167.0 82.0L173.0 80.0L175.0 102.0L169.0 104.0Z"/>
<path fill="#5cbcf0" d="M121.0 54.0L125.0 53.0L131.0 78.0L128.0 80.0Z"/>
<path fill="#fdca24" d="M95.0 144.0L103.0 142.0L111.0 152.0L123.0 160.0L139.0 166.0L141.0 172.0L127.0 174.0L113.0 170.0L103.0 162.0L97.0 154.0ZM307.0 152.0L313.0 140.0L323.0 144.0L331.0 140.0L339.0 124.0L347.0 124.0L347.0 160.0L335.0 166.0L319.0 166.0L309.0 160.0Z"/>
<path fill="#ff960a" d="M313.0 153.0L319.0 152.0L319.0 162.0L314.0 162.0Z"/>
<path fill="#fdca24" d="M295.0 112.0L305.0 110.0L313.0 120.0L309.0 128.0L299.0 120.0Z"/>
<path fill="#5cbcf0" d="M249.0 68.0L257.0 66.0L263.0 80.0L273.0 76.0L283.0 60.0L293.0 52.0L307.0 50.0L319.0 54.0L327.0 66.0L335.0 78.0L347.0 88.0L347.0 92.0L329.0 90.0L319.0 100.0L307.0 102.0L299.0 94.0L287.0 88.0L275.0 94.0L265.0 100.0L259.0 88.0L253.0 78.0ZM187.0 34.0L199.0 34.0L197.0 40.0L189.0 40.0ZM17.0 160.0L25.0 158.0L25.0 174.0L19.0 176.0Z"/>
<path fill="#fff183" d="M342.0 114.0L356.0 108.0L368.0 104.0L384.0 106.0L400.0 104.0L408.0 96.0L412.0 86.0L424.0 82.0L432.0 88.0L448.0 80.0L460.0 76.0L468.0 80.0L480.0 84.0L496.0 82.0L508.0 84.0L524.0 82.0L540.0 76.0L556.0 68.0L572.0 60.0L584.0 52.0L596.0 40.0L606.0 28.0L612.0 16.0L618.0 6.0L624.0 -2.0L632.0 12.0L644.0 12.0L654.0 -2.0L686.0 -2.0L686.0 176.0L672.0 180.0L656.0 188.0L640.0 194.0L624.0 196.0L604.0 200.0L588.0 196.0L576.0 186.0L564.0 180.0L556.0 174.0L548.0 184.0L540.0 194.0L534.0 204.0L342.0 204.0Z"/>
<path fill="#afdcf4" d="M348.0 190.0L354.0 188.0L356.0 204.0L348.0 204.0ZM422.0 148.0L428.0 148.0L430.0 164.0L424.0 164.0Z"/>
<path fill="#fdca24" d="M342.0 124.0L350.0 128.0L356.0 148.0L368.0 152.0L384.0 148.0L400.0 152.0L412.0 158.0L424.0 164.0L420.0 174.0L404.0 176.0L384.0 176.0L364.0 172.0L352.0 160.0L342.0 156.0ZM418.0 108.0L424.0 112.0L432.0 128.0L440.0 140.0L448.0 132.0L456.0 128.0L464.0 140.0L472.0 152.0L484.0 156.0L496.0 148.0L504.0 140.0L514.0 130.0L516.0 112.0L510.0 104.0L524.0 98.0L544.0 96.0L564.0 94.0L580.0 86.0L596.0 76.0L604.0 60.0L620.0 52.0L634.0 44.0L648.0 40.0L660.0 46.0L672.0 56.0L678.0 68.0L682.0 84.0L682.0 100.0L674.0 108.0L664.0 112.0L652.0 116.0L648.0 128.0L654.0 140.0L656.0 152.0L644.0 160.0L632.0 158.0L624.0 148.0L620.0 140.0L612.0 136.0L604.0 140.0L600.0 152.0L602.0 166.0L614.0 174.0L614.0 180.0L604.0 188.0L592.0 188.0L584.0 180.0L580.0 172.0L572.0 176.0L564.0 172.0L556.0 168.0L544.0 164.0L536.0 160.0L528.0 166.0L524.0 176.0L516.0 184.0L504.0 190.0L500.0 194.0L484.0 192.0L468.0 184.0L456.0 180.0L444.0 170.0L436.0 158.0L428.0 140.0L420.0 120.0Z"/>
<path fill="#ff960a" d="M636.0 76.0L644.0 68.0L656.0 70.0L664.0 80.0L662.0 92.0L648.0 94.0L638.0 88.0ZM548.0 108.0L564.0 112.0L584.0 110.0L600.0 104.0L612.0 94.0L616.0 104.0L612.0 116.0L624.0 120.0L624.0 136.0L612.0 132.0L596.0 128.0L592.0 140.0L588.0 152.0L580.0 160.0L576.0 170.0L564.0 166.0L556.0 156.0L556.0 140.0L552.0 124.0Z"/>
<path fill="#ff5000" d="M562.0 120.0L570.0 124.0L578.0 132.0L588.0 144.0L584.0 152.0L574.0 146.0L566.0 136.0Z"/>
<path fill="#f00000" d="M574.0 134.0L581.0 134.0L582.0 140.0L576.0 141.0Z"/>
<path fill="#ff960a" d="M430.0 130.0L438.0 140.0L444.0 156.0L452.0 160.0L460.0 158.0L468.0 168.0L472.0 180.0L464.0 184.0L456.0 176.0L444.0 166.0L436.0 152.0Z"/>
<path fill="#ff5000" d="M460.0 165.0L467.0 166.0L468.0 176.0L462.0 175.0Z"/>
<path fill="#5cbcf0" d="M364.0 32.0L371.0 31.0L372.0 46.0L366.0 48.0Z"/>
<path fill="#fdca24" d="M378.0 34.0L386.0 34.0L386.0 38.0L378.0 38.0Z"/>
<path fill="#5cbcf0" d="M536.0 21.0L554.0 20.0L554.0 25.0L537.0 26.0Z"/>
<path fill="#fff183" d="M-3.0 200.0L347.0 200.0L347.0 406.0L-3.0 406.0Z"/>
<path fill="#afdcf4" d="M41.0 210.0L51.0 214.0L63.0 222.0L79.0 224.0L89.0 228.0L91.0 242.0L89.0 254.0L85.0 264.0L79.0 268.0L77.0 254.0L67.0 252.0L63.0 260.0L51.0 260.0L43.0 254.0L39.0 238.0ZM99.0 242.0L107.0 236.0L109.0 246.0L103.0 258.0L98.0 254.0ZM119.0 222.0L126.0 220.0L127.0 240.0L121.0 242.0ZM147.0 214.0L151.0 208.0L171.0 206.0L175.0 200.0L347.0 200.0L347.0 206.0L315.0 208.0L299.0 222.0L287.0 216.0L269.0 212.0L255.0 204.0L239.0 212.0L227.0 218.0L225.0 224.0L199.0 228.0L179.0 228.0L159.0 230.0L151.0 232.0L149.0 222.0Z"/>
<path fill="#fff183" d="M177.0 216.0L183.0 214.0L185.0 227.0L178.0 228.0ZM203.0 214.0L210.0 212.0L211.0 223.0L204.0 224.0ZM235.0 200.0L245.0 200.0L244.0 209.0L236.0 210.0Z"/>
<path fill="#afdcf4" d="M-3.0 200.0L9.0 200.0L9.0 214.0L-3.0 216.0Z"/>
<path fill="#fff183" d="M342.0 200.0L692.0 200.0L692.0 406.0L342.0 406.0Z"/>
<path fill="#afdcf4" d="M535.0 200.0L686.0 200.0L686.0 227.0L535.0 227.0Z"/>
<path fill="#fff183" d="M594.0 200.0L628.0 200.0L624.0 205.0L598.0 205.0ZM536.0 216.0L542.0 216.0L542.0 224.0L536.0 224.0Z"/>
<path fill="#afdcf4" d="M534.0 228.0L686.0 228.0L686.0 242.0L656.0 240.0L644.0 234.0L624.0 236.0L604.0 238.0L592.0 236.0L584.0 240.0L576.0 248.0L564.0 252.0L560.0 242.0L556.0 236.0L552.0 242.0L552.0 258.0L544.0 262.0L536.0 254.0L532.0 242.0ZM428.0 206.0L440.0 200.0L456.0 200.0L456.0 210.0L464.0 214.0L484.0 214.0L492.0 222.0L488.0 230.0L480.0 234.0L472.0 228.0L464.0 224.0L456.0 222.0L444.0 216.0L432.0 212.0ZM498.0 228.0L508.0 224.0L512.0 234.0L508.0 242.0L500.0 240.0ZM488.0 244.0L494.0 244.0L494.0 256.0L489.0 256.0ZM498.0 260.0L504.0 260.0L504.0 272.0L499.0 272.0Z"/>
</g>
<use href="#land"/>
<path fill="#fff183" d="M25.0 269.0L49.0 277.0L79.0 278.0L87.0 282.0L65.0 286.0L63.0 296.0L45.0 298.0L44.0 308.0L39.0 308.0L37.0 296.0L11.0 296.0L11.0 288.0L23.0 286.0Z"/>
<use href="#coast"/>
<path d="M299.0 16.0h0M333.4 16.0h0M471.0 16.0h0M505.4 16.0h0M539.8 16.0h0M574.2 16.0h0M677.4 16.0h0M281.8 33.2h0M316.2 33.2h0M453.8 33.2h0M488.2 33.2h0M522.6 33.2h0M557.0 33.2h0M660.2 33.2h0M58.2 50.4h0M92.6 50.4h0M299.0 50.4h0M333.4 50.4h0M471.0 50.4h0M505.4 50.4h0M539.8 50.4h0M643.0 50.4h0M677.4 50.4h0M75.4 67.6h0M247.4 67.6h0M281.8 67.6h0M316.2 67.6h0M625.8 67.6h0M660.2 67.6h0M264.6 84.8h0M299.0 84.8h0M333.4 84.8h0M436.6 84.8h0M608.6 84.8h0M643.0 84.8h0M677.4 84.8h0M75.4 102.0h0M247.4 102.0h0M316.2 102.0h0M419.4 102.0h0M522.6 102.0h0M557.0 102.0h0M591.4 102.0h0M625.8 102.0h0M660.2 102.0h0M539.8 119.2h0M574.2 119.2h0M608.6 119.2h0M643.0 119.2h0M677.4 119.2h0M350.6 136.4h0M488.2 136.4h0M522.6 136.4h0M557.0 136.4h0M591.4 136.4h0M625.8 136.4h0M161.4 153.6h0M299.0 153.6h0M333.4 153.6h0M367.8 153.6h0M402.2 153.6h0M436.6 153.6h0M471.0 153.6h0M505.4 153.6h0M539.8 153.6h0M574.2 153.6h0M643.0 153.6h0M75.4 170.8h0M109.8 170.8h0M144.2 170.8h0M281.8 170.8h0M316.2 170.8h0M350.6 170.8h0M385.0 170.8h0M419.4 170.8h0M453.8 170.8h0M522.6 170.8h0M591.4 170.8h0M58.2 188.0h0M92.6 188.0h0M127.0 188.0h0M505.4 188.0h0M6.6 205.2h0M75.4 205.2h0M109.8 205.2h0M488.2 205.2h0M557.0 205.2h0M574.2 222.4h0M608.6 222.4h0M643.0 222.4h0M677.4 222.4h0M557.0 239.6h0M591.4 239.6h0M625.8 239.6h0" stroke="#fff" stroke-width="7" stroke-linecap="round" fill="none"/>
</g>
<use href="#ax0"/>
<rect x="-12" y="339.6" width="698.2" height="5.6" fill="#6a6a6a"/>
<use href="#box"/>
<text class="t" x="-37.5" y="11.6" text-anchor="end" style="letter-spacing:0.2px">30°S</text>
<text class="t" x="-37.5" y="182.6" text-anchor="end" style="letter-spacing:0.2px">60°S</text>
<text class="t" x="-37.5" y="353.6" text-anchor="end" style="letter-spacing:0.2px">90°S</text>
<text class="t" x="38.0" y="404.5" text-anchor="middle">60°W</text>
<text class="t" x="152.1" y="404.5" text-anchor="middle">0°</text>
<text class="t" x="266.2" y="404.5" text-anchor="middle">60°E</text>
<text class="t" x="380.3" y="404.5" text-anchor="middle">120°E</text>
<text class="t" x="494.4" y="404.5" text-anchor="middle">180°</text>
<text class="t" x="608.4" y="404.5" text-anchor="middle">120°W</text>
<text class="ti" x="342.2" y="-7" text-anchor="middle">Ekman advection</text>
<text class="l" x="-163" y="-20">e</text>
</g>
<g transform="translate(1033 1011)">
<g clip-path="url(#clip)">
<rect x="0" y="0" width="685" height="342" fill="#afdcf4"/>
<g filter="url(#blf)">
<path fill="#fff183" d="M-3.0 -2.0L14.0 -2.0L13.0 40.0L10.0 80.0L8.0 104.0L-3.0 104.0ZM107.0 -2.0L183.0 -2.0L183.0 30.0L175.0 40.0L159.0 46.0L151.0 30.0L139.0 24.0L129.0 32.0L127.0 44.0L111.0 48.0L103.0 36.0L107.0 20.0Z"/>
<path fill="#afdcf4" d="M129.0 28.0L139.0 24.0L147.0 32.0L145.0 44.0L135.0 48.0L129.0 40.0ZM155.0 32.0L163.0 28.0L169.0 34.0L167.0 43.0L159.0 44.0Z"/>
<path fill="#fff183" d="M87.0 20.0L95.0 12.0L105.0 22.0L107.0 34.0L99.0 40.0L89.0 34.0ZM211.0 -2.0L239.0 -2.0L241.0 20.0L251.0 10.0L279.0 -2.0L283.0 18.0L295.0 30.0L303.0 34.0L299.0 44.0L287.0 40.0L275.0 32.0L263.0 36.0L255.0 48.0L243.0 50.0L231.0 40.0L225.0 52.0L219.0 46.0L215.0 30.0ZM323.0 -2.0L347.0 -2.0L347.0 50.0L335.0 54.0L323.0 46.0L319.0 30.0L327.0 20.0ZM43.0 48.0L59.0 64.0L79.0 66.0L99.0 52.0L119.0 50.0L139.0 52.0L159.0 48.0L179.0 52.0L199.0 50.0L219.0 60.0L231.0 68.0L229.0 90.0L219.0 104.0L211.0 120.0L215.0 136.0L219.0 148.0L211.0 172.0L199.0 180.0L187.0 168.0L175.0 156.0L179.0 140.0L171.0 128.0L159.0 140.0L151.0 152.0L155.0 172.0L147.0 184.0L139.0 204.0L107.0 204.0L99.0 180.0L91.0 160.0L79.0 152.0L67.0 164.0L59.0 184.0L55.0 172.0L59.0 152.0L67.0 136.0L59.0 124.0L51.0 112.0L47.0 100.0L41.0 88.0L47.0 76.0Z"/>
<path fill="#afdcf4" d="M103.0 88.0L119.0 86.0L135.0 94.0L139.0 112.0L135.0 132.0L123.0 140.0L111.0 128.0L105.0 108.0Z"/>
<path fill="#fff183" d="M239.0 76.0L251.0 72.0L257.0 84.0L253.0 100.0L249.0 120.0L253.0 144.0L245.0 152.0L239.0 140.0L241.0 112.0ZM267.0 96.0L279.0 76.0L291.0 84.0L295.0 100.0L283.0 112.0L279.0 128.0L283.0 144.0L275.0 152.0L269.0 136.0L271.0 116.0ZM311.0 108.0L347.0 104.0L347.0 152.0L331.0 148.0L323.0 128.0L315.0 120.0ZM243.0 204.0L247.0 188.0L259.0 184.0L275.0 188.0L287.0 180.0L299.0 188.0L311.0 180.0L319.0 192.0L347.0 188.0L347.0 204.0ZM29.0 104.0L43.0 96.0L59.0 112.0L75.0 120.0L79.0 132.0L67.0 138.0L55.0 128.0L39.0 124.0L29.0 120.0ZM175.0 204.0L179.0 192.0L191.0 188.0L199.0 196.0L201.0 204.0Z"/>
<path fill="#5cbcf0" d="M53.0 88.0L63.0 82.0L83.0 86.0L95.0 96.0L93.0 106.0L79.0 108.0L65.0 100.0L55.0 96.0ZM39.0 116.0L51.0 120.0L59.0 136.0L65.0 148.0L59.0 160.0L47.0 168.0L39.0 180.0L25.0 184.0L19.0 172.0L25.0 156.0L35.0 140.0ZM229.0 52.0L239.0 56.0L253.0 62.0L265.0 76.0L271.0 92.0L263.0 96.0L257.0 80.0L247.0 68.0L233.0 60.0ZM193.0 88.0L199.0 94.0L207.0 112.0L209.0 120.0L201.0 116.0L195.0 100.0ZM119.0 118.0L127.0 116.0L131.0 138.0L123.0 140.0ZM289.0 152.0L297.0 144.0L299.0 160.0L293.0 176.0L287.0 168.0ZM3.0 176.0L15.0 172.0L19.0 192.0L11.0 204.0L3.0 204.0ZM293.6 117.1L306.0 113.7L315.3 123.3L312.1 134.1L299.6 136.2L292.3 128.1Z"/>
<path fill="#2d7df0" d="M295.3 118.6L305.5 115.9L313.2 123.6L310.6 132.5L300.3 134.1L294.5 127.5Z"/>
<path fill="#1400ff" d="M297.0 120.0L305.0 118.0L311.0 124.0L309.0 131.0L301.0 132.0L296.6 127.0Z"/>
<path fill="#5cbcf0" d="M37.2 31.7L54.8 31.7L54.8 42.3L37.2 42.3Z"/>
<path fill="#1eaaf5" d="M39.1 32.9L52.9 32.9L52.9 41.1L39.1 41.1Z"/>
<path fill="#3c5ae0" d="M41.0 34.0L51.0 34.0L51.0 40.0L41.0 40.0Z"/>
<path fill="#5cbcf0" d="M35.6 73.3L52.4 73.3L52.4 86.7L35.6 86.7Z"/>
<path fill="#1eaaf5" d="M37.3 74.6L50.7 74.6L50.7 85.4L37.3 85.4Z"/>
<path fill="#3c5ae0" d="M39.0 76.0L49.0 76.0L49.0 84.0L39.0 84.0Z"/>
<path fill="#5cbcf0" d="M19.9 140.9L34.1 140.9L34.1 155.1L19.9 155.1Z"/>
<path fill="#1eaaf5" d="M21.4 142.4L32.6 142.4L32.6 153.6L21.4 153.6Z"/>
<path fill="#3c5ae0" d="M23.0 144.0L31.0 144.0L31.0 152.0L23.0 152.0Z"/>
<path fill="#fdca24" d="M43.2 69.2L50.4 49.9L58.8 58.8L64.8 69.2Z"/>
<path fill="#ff960a" d="M45.0 68.0L51.0 52.0L57.0 60.0L63.0 68.0Z"/>
<path fill="#fdca24" d="M102.7 66.3L111.3 63.6L119.2 81.4L114.0 94.3L104.8 87.8Z"/>
<path fill="#ff960a" d="M103.8 68.1L111.2 65.8L117.1 80.7L113.5 92.1L105.9 85.9Z"/>
<path fill="#ff5000" d="M105.0 70.0L111.0 68.0L115.0 80.0L113.0 90.0L107.0 84.0Z"/>
<path fill="#fdca24" d="M115.8 60.2L123.2 57.8L128.3 77.7L120.8 82.2Z"/>
<path fill="#ff960a" d="M117.0 62.0L123.0 60.0L127.0 76.0L121.0 80.0Z"/>
<path fill="#fdca24" d="M143.0 66.0L149.0 60.0L155.0 68.0L153.0 80.0L147.0 82.0L143.0 76.0ZM161.0 54.0L169.0 52.0L171.0 64.0L163.0 66.0ZM193.0 56.0L201.0 54.0L203.0 64.0L196.0 67.0ZM175.0 65.0L182.0 64.0L183.0 73.0L176.0 74.0ZM137.0 114.0L145.0 106.0L151.0 112.0L147.0 122.0L139.0 122.0ZM163.0 100.0L171.0 98.0L175.0 112.0L167.0 114.0ZM93.0 136.0L101.0 130.0L107.0 140.0L103.0 148.0L109.0 158.0L105.0 164.0L99.0 156.0L95.0 146.0ZM121.0 155.0L137.0 154.0L137.0 162.0L122.0 162.0ZM199.0 122.0L205.0 120.0L209.0 140.0L207.0 160.0L201.0 158.0ZM239.0 76.0L251.0 74.0L253.0 83.0L241.0 84.0ZM291.2 103.8L314.5 102.3L314.7 118.4L292.5 119.1Z"/>
<path fill="#ff960a" d="M293.1 104.9L312.8 103.7L312.8 117.2L294.3 117.7Z"/>
<path fill="#ff5000" d="M295.0 106.0L311.0 105.0L311.0 116.0L296.0 116.4Z"/>
<path fill="#fdca24" d="M312.7 117.8L319.6 125.9L319.7 154.1L315.0 160.2L309.3 145.4Z"/>
<path fill="#ff960a" d="M313.0 120.0L319.0 128.0L319.0 152.0L315.0 158.0L311.0 144.0Z"/>
<path fill="#fdca24" d="M277.0 164.0L285.0 160.0L287.0 180.0L281.0 184.0ZM30.6 164.3L41.4 161.8L43.5 183.6L34.0 188.3Z"/>
<path fill="#ff960a" d="M31.8 166.2L40.7 163.9L42.2 181.8L34.5 186.1Z"/>
<path fill="#ff5000" d="M33.0 168.0L40.0 166.0L41.0 180.0L35.0 184.0Z"/>
<path fill="#fdca24" d="M327.0 136.0L335.0 136.0L335.0 148.0L328.0 148.0ZM191.5 31.4L206.5 31.4L205.1 43.1L192.9 43.1Z"/>
<path fill="#ff960a" d="M193.2 32.7L204.8 32.7L203.6 41.6L194.4 41.6Z"/>
<path fill="#ff5000" d="M195.0 34.0L203.0 34.0L202.0 40.0L196.0 40.0Z"/>
<path fill="#fff183" d="M342.0 -2.0L370.0 -2.0L370.0 26.0L364.0 40.0L356.0 50.0L342.0 56.0Z"/>
<path fill="#fdca24" d="M342.0 -2.0L356.0 -2.0L358.0 16.0L352.0 30.0L342.0 32.0Z"/>
<path fill="#fff183" d="M372.0 60.0L380.0 54.0L392.0 60.0L404.0 76.0L410.0 88.0L404.0 96.0L392.0 88.0L380.0 80.0L372.0 70.0ZM342.0 94.0L364.0 90.0L384.0 92.0L400.0 96.0L404.0 112.0L400.0 128.0L404.0 144.0L412.0 152.0L424.0 164.0L428.0 180.0L436.0 192.0L432.0 204.0L342.0 204.0Z"/>
<path fill="#afdcf4" d="M360.0 180.0L376.0 172.0L400.0 176.0L412.0 192.0L404.0 204.0L364.0 204.0Z"/>
<path fill="#fff183" d="M442.0 28.0L456.0 34.0L468.0 30.0L476.0 50.0L472.0 80.0L468.0 96.0L464.0 112.0L468.0 128.0L476.0 140.0L484.0 152.0L492.0 172.0L504.0 180.0L504.0 204.0L452.0 204.0L448.0 180.0L452.0 156.0L444.0 140.0L440.0 120.0L444.0 100.0L440.0 80.0L442.0 56.0ZM488.0 60.0L500.0 56.0L512.0 64.0L524.0 76.0L520.0 88.0L508.0 92.0L496.0 88.0L488.0 76.0ZM500.0 -2.0L608.0 -2.0L612.0 20.0L610.0 38.0L600.0 40.0L592.0 30.0L580.0 28.0L564.0 36.0L548.0 34.0L532.0 36.0L520.0 26.0L508.0 20.0ZM496.0 120.0L516.0 112.0L524.0 96.0L524.0 76.0L544.0 74.0L564.0 76.0L584.0 80.0L600.0 88.0L616.0 86.0L624.0 94.0L640.0 80.0L644.0 70.0L648.0 84.0L656.0 94.0L664.0 100.0L672.0 116.0L676.0 140.0L672.0 160.0L664.0 180.0L660.0 204.0L534.0 204.0L534.0 140.0L524.0 136.0L508.0 140.0L496.0 136.0Z"/>
<path fill="#afdcf4" d="M544.0 118.0L560.0 120.0L564.0 136.0L576.0 140.0L584.0 156.0L580.0 172.0L572.0 204.0L552.0 204.0L552.0 180.0L544.0 160.0L536.0 140.0ZM612.0 138.0L622.0 136.0L624.0 156.0L614.0 160.0Z"/>
<path fill="#fff183" d="M628.0 44.0L634.0 46.0L636.0 58.0L630.0 56.0Z"/>
<path fill="#5cbcf0" d="M444.0 -2.0L464.0 -2.0L460.0 20.0L448.0 26.0ZM482.0 16.0L496.0 14.0L500.0 30.0L492.0 36.0L484.0 28.0ZM493.0 95.0L502.0 94.0L502.0 108.0L494.0 108.0ZM416.0 120.0L424.0 120.0L424.0 132.0L417.0 132.0ZM430.0 154.0L439.0 152.0L440.0 174.0L432.0 176.0ZM406.0 179.0L417.0 178.0L418.0 188.0L407.0 188.0ZM402.0 101.0L411.0 100.0L412.0 112.0L403.0 112.0ZM342.0 140.0L350.0 140.0L350.0 158.0L342.0 158.0ZM550.0 120.0L558.0 120.0L558.0 128.0L550.0 128.0ZM578.0 144.0L586.0 140.0L592.0 156.0L588.0 164.0L580.0 160.0ZM554.0 164.0L564.0 158.0L574.0 166.0L576.0 184.0L572.0 204.0L556.0 204.0L552.0 184.0ZM553.5 163.4L566.3 159.8L573.4 169.7L568.1 179.9L555.1 179.3Z"/>
<path fill="#2d7df0" d="M555.2 164.7L565.7 161.9L571.2 169.9L567.0 177.9L556.5 177.6Z"/>
<path fill="#1400ff" d="M557.0 166.0L565.0 164.0L569.0 170.0L566.0 176.0L558.0 176.0Z"/>
<path fill="#5cbcf0" d="M614.0 141.0L622.0 140.0L622.0 156.0L615.0 156.0ZM524.0 120.0L532.0 120.0L532.0 160.0L525.0 160.0Z"/>
<path fill="#fdca24" d="M375.2 30.6L386.5 30.4L386.5 45.6L376.8 45.8Z"/>
<path fill="#ff960a" d="M376.6 32.3L385.2 32.2L385.2 43.8L377.9 43.9Z"/>
<path fill="#ff5000" d="M378.0 34.0L384.0 34.0L384.0 42.0L379.0 42.0Z"/>
<path fill="#fdca24" d="M416.0 100.0L423.0 100.0L424.0 112.0L417.0 112.0ZM424.0 118.0L432.0 120.0L436.0 138.0L428.0 140.0ZM362.0 142.0L370.0 140.0L370.0 166.0L363.0 166.0ZM380.0 144.0L388.0 144.0L388.0 160.0L381.0 160.0ZM462.0 132.0L472.0 144.0L480.0 152.0L472.0 156.0L464.0 148.0ZM459.7 147.8L470.7 147.6L472.3 182.2L461.3 182.4Z"/>
<path fill="#ff960a" d="M460.5 149.9L470.2 149.8L471.5 180.1L461.8 180.2Z"/>
<path fill="#ff5000" d="M461.2 151.9L469.6 151.9L470.8 178.1L462.4 178.1Z"/>
<path fill="#f00000" d="M462.0 154.0L469.0 154.0L470.0 176.0L463.0 176.0Z"/>
<path fill="#fdca24" d="M483.4 172.5L494.6 175.6L506.2 189.2L497.1 200.2L484.0 189.8Z"/>
<path fill="#ff960a" d="M484.7 174.2L494.3 177.8L504.1 188.6L496.6 198.1L486.0 188.9Z"/>
<path fill="#ff5000" d="M486.0 176.0L494.0 180.0L502.0 188.0L496.0 196.0L488.0 188.0Z"/>
<path fill="#fdca24" d="M492.0 72.0L510.0 72.0L510.0 84.0L493.0 84.0ZM541.9 99.3L555.7 95.8L570.1 108.7L560.8 114.0Z"/>
<path fill="#ff960a" d="M544.0 100.0L556.0 98.0L568.0 108.0L560.0 112.0Z"/>
<path fill="#fdca24" d="M565.0 115.7L579.3 111.5L588.0 130.7L575.7 142.6Z"/>
<path fill="#ff960a" d="M566.6 117.2L578.9 113.7L586.0 129.8L575.8 140.4Z"/>
<path fill="#ff5000" d="M568.3 118.6L578.4 115.8L584.0 128.9L575.9 138.2Z"/>
<path fill="#f00000" d="M570.0 120.0L578.0 118.0L582.0 128.0L576.0 136.0Z"/>
<path fill="#fdca24" d="M547.7 132.3L558.5 127.6L568.3 148.9L561.1 164.3L547.6 159.7Z"/>
<path fill="#ff960a" d="M548.8 134.1L558.2 129.8L566.2 148.5L560.6 162.1L548.8 157.8Z"/>
<path fill="#ff5000" d="M550.0 136.0L558.0 132.0L564.0 148.0L560.0 160.0L550.0 156.0Z"/>
<path fill="#fdca24" d="M581.8 129.2L593.1 127.8L595.9 156.0L586.0 156.3Z"/>
<path fill="#ff960a" d="M582.9 131.1L592.6 129.9L595.0 154.0L586.5 154.1Z"/>
<path fill="#ff5000" d="M584.0 133.0L592.0 132.0L594.0 152.0L587.0 152.0Z"/>
<path fill="#fdca24" d="M583.0 163.7L596.2 153.4L608.2 169.7L602.0 194.3L589.7 190.2Z"/>
<path fill="#ff960a" d="M584.6 165.2L596.1 155.6L606.1 170.5L601.4 192.2L590.5 188.1Z"/>
<path fill="#ff5000" d="M586.3 166.6L596.1 157.8L604.1 171.2L600.7 190.1L591.2 186.1Z"/>
<path fill="#f00000" d="M588.0 168.0L596.0 160.0L602.0 172.0L600.0 188.0L592.0 184.0Z"/>
<path fill="#fdca24" d="M602.0 160.0L610.0 156.0L616.0 172.0L612.0 190.0L604.0 184.0ZM624.0 126.0L632.0 124.0L640.0 140.0L636.0 152.0L628.0 148.0ZM616.0 116.0L624.0 116.0L624.0 128.0L617.0 128.0ZM444.0 144.0L451.0 144.0L452.0 172.0L445.0 172.0ZM424.0 169.0L433.0 168.0L434.0 184.0L426.0 184.0ZM439.3 37.8L444.3 37.8L444.3 72.2L439.7 72.2Z"/>
<path fill="#ff960a" d="M439.6 40.0L444.0 40.0L444.0 70.0L440.0 70.0Z"/>
<path fill="#fdca24" d="M488.2 34.0L496.1 33.9L496.1 52.1L488.8 52.1Z"/>
<path fill="#ff960a" d="M489.1 36.0L495.3 36.0L495.3 50.0L489.6 50.1Z"/>
<path fill="#ff5000" d="M490.0 38.0L494.4 38.0L494.4 48.0L490.4 48.0Z"/>
<path fill="#fff183" d="M-3.0 200.0L347.0 200.0L347.0 406.0L-3.0 406.0Z"/>
<path fill="#afdcf4" d="M39.0 200.0L55.0 200.0L53.0 218.0L45.0 226.0L39.0 218.0ZM49.0 236.0L57.0 232.0L61.0 238.0L57.0 244.0L50.0 243.0ZM93.0 228.0L103.0 222.0L111.0 214.0L113.0 226.0L109.0 238.0L105.0 248.0L99.0 242.0L95.0 236.0ZM119.0 200.0L155.0 200.0L153.0 210.0L147.0 222.0L139.0 224.0L131.0 218.0L123.0 212.0ZM189.0 200.0L215.0 200.0L213.0 214.0L207.0 222.0L199.0 228.0L191.0 222.0ZM229.0 200.0L249.0 200.0L247.0 208.0L231.0 208.0ZM285.0 206.0L303.0 200.0L299.0 214.0L291.0 224.0L287.0 216.0Z"/>
<path fill="#5cbcf0" d="M-3.0 200.0L11.0 200.0L9.0 232.0L-3.0 234.0Z"/>
<path fill="#fdca24" d="M43.0 243.0L49.8 241.9L49.8 258.0L43.9 258.1Z"/>
<path fill="#ff960a" d="M44.0 245.0L49.0 244.0L49.0 256.0L44.6 256.0Z"/>
<path fill="#fff183" d="M342.0 200.0L692.0 200.0L692.0 406.0L342.0 406.0Z"/>
<path fill="#afdcf4" d="M535.0 200.0L588.0 200.0L588.0 214.0L584.0 226.0L535.0 226.0Z"/>
<path fill="#5cbcf0" d="M556.0 200.0L564.0 200.0L564.0 210.0L557.0 210.0ZM576.0 200.0L584.0 200.0L584.0 208.0L577.0 208.0Z"/>
<path fill="#afdcf4" d="M662.0 200.0L686.0 200.0L686.0 226.0L664.0 226.0L660.0 214.0ZM516.0 230.0L532.0 228.0L564.0 230.0L600.0 232.0L598.0 242.0L584.0 248.0L564.0 244.0L552.0 242.0L540.0 248.0L532.0 254.0L528.0 262.0L520.0 268.0L508.0 270.0L502.0 262.0L502.0 246.0L512.0 242.0Z"/>
<path fill="#5cbcf0" d="M504.0 257.0L513.0 256.0L514.0 267.0L505.0 268.0Z"/>
<path fill="#afdcf4" d="M620.0 234.0L638.0 232.0L640.0 242.0L628.0 248.0L622.0 244.0ZM664.0 228.0L686.0 228.0L686.0 242.0L665.0 241.0ZM342.0 200.0L424.0 200.0L424.0 206.0L342.0 205.0ZM440.0 200.0L448.0 200.0L448.0 214.0L441.0 214.0ZM456.0 210.0L464.0 210.0L464.0 226.0L457.0 226.0ZM474.0 248.0L482.0 248.0L482.0 260.0L475.0 260.0ZM488.0 230.0L494.0 230.0L494.0 246.0L488.4 246.0ZM488.0 252.0L494.0 252.0L494.0 266.0L488.4 266.0ZM480.0 200.0L488.0 200.0L488.0 214.0L481.0 214.0ZM500.0 200.0L516.0 200.0L514.0 214.0L504.0 218.0Z"/>
</g>
<use href="#land"/>
<path fill="#fff183" d="M25.0 269.0L49.0 277.0L79.0 278.0L87.0 282.0L65.0 286.0L63.0 296.0L45.0 298.0L44.0 308.0L39.0 308.0L37.0 296.0L11.0 296.0L11.0 288.0L23.0 286.0Z"/>
<use href="#coast"/>
<path d="M222.6 16.0h0M463.4 16.0h0M497.8 16.0h0M532.2 16.0h0M635.4 16.0h0M669.8 16.0h0M343.0 33.2h0M515.0 33.2h0M652.6 33.2h0M394.6 50.4h0M463.4 50.4h0M532.2 50.4h0M669.8 50.4h0M343.0 67.6h0M377.4 67.6h0M411.8 67.6h0M652.6 67.6h0M153.8 84.8h0M222.6 84.8h0M291.4 84.8h0M669.8 84.8h0M618.2 102.0h0M119.4 119.2h0M153.8 119.2h0M291.4 119.2h0M601.0 119.2h0M635.4 119.2h0M102.2 136.4h0M136.6 136.4h0M480.6 136.4h0M652.6 136.4h0M50.6 153.6h0M119.4 153.6h0M360.2 153.6h0M463.4 153.6h0M566.6 153.6h0M601.0 153.6h0M67.8 170.8h0M239.8 170.8h0M308.6 170.8h0M411.8 170.8h0M583.8 170.8h0M618.2 170.8h0M153.8 188.0h0M188.2 188.0h0M222.6 188.0h0M291.4 188.0h0M394.6 188.0h0M429.0 188.0h0M497.8 188.0h0M601.0 188.0h0M136.6 205.2h0M205.4 205.2h0M549.4 205.2h0M583.8 205.2h0M480.6 239.6h0" stroke="#fff" stroke-width="7" stroke-linecap="round" fill="none"/>
</g>
<use href="#ax1"/>
<rect x="-12" y="339.6" width="698.2" height="5.6" fill="#6a6a6a"/>
<use href="#box"/>
<text class="t" x="-37.5" y="11.6" text-anchor="end" style="letter-spacing:0.2px">30°S</text>
<text class="t" x="-37.5" y="182.6" text-anchor="end" style="letter-spacing:0.2px">60°S</text>
<text class="t" x="-37.5" y="353.6" text-anchor="end" style="letter-spacing:0.2px">90°S</text>
<text class="t" x="36.5" y="404.5" text-anchor="middle">60°W</text>
<text class="t" x="150.6" y="404.5" text-anchor="middle">0°</text>
<text class="t" x="264.7" y="404.5" text-anchor="middle">60°E</text>
<text class="t" x="378.8" y="404.5" text-anchor="middle">120°E</text>
<text class="t" x="492.9" y="404.5" text-anchor="middle">180°</text>
<text class="t" x="606.9" y="404.5" text-anchor="middle">120°W</text>
<text class="ti" x="342.2" y="-17" text-anchor="middle">Geostrophic advection</text>
<text class="l" x="-165" y="-20">f</text>
</g>
<g transform="translate(166 1489)">
<g clip-path="url(#clip)">
<rect x="0" y="0" width="685" height="342" fill="#fff183"/>
<g filter="url(#blg)">
<path fill="#afdcf4" d="M57.0 -2.0L119.0 -2.0L123.0 16.0L139.0 16.0L147.0 -2.0L159.0 -2.0L159.0 26.0L147.0 30.0L139.0 26.0L127.0 34.0L111.0 30.0L99.0 40.0L87.0 36.0L75.0 26.0L63.0 26.0L59.0 16.0ZM213.0 -2.0L259.0 -2.0L263.0 12.0L279.0 20.0L299.0 22.0L319.0 18.0L347.0 24.0L347.0 52.0L327.0 48.0L311.0 44.0L299.0 48.0L279.0 46.0L259.0 40.0L239.0 36.0L229.0 30.0L219.0 34.0L211.0 20.0ZM43.0 50.0L59.0 58.0L75.0 60.0L87.0 52.0L99.0 56.0L111.0 66.0L103.0 76.0L95.0 84.0L79.0 82.0L63.0 76.0L51.0 68.0L43.0 60.0ZM45.0 104.0L59.0 108.0L75.0 112.0L87.0 120.0L99.0 112.0L103.0 124.0L95.0 136.0L83.0 128.0L67.0 124.0L55.0 120.0L47.0 112.0ZM119.0 50.0L131.0 44.0L139.0 60.0L143.0 76.0L139.0 88.0L147.0 100.0L139.0 112.0L143.0 128.0L135.0 144.0L123.0 140.0L115.0 128.0L119.0 112.0L111.0 100.0L119.0 84.0L115.0 68.0ZM163.0 52.0L175.0 48.0L183.0 60.0L191.0 76.0L199.0 88.0L195.0 108.0L187.0 120.0L191.0 140.0L179.0 156.0L167.0 148.0L163.0 132.0L171.0 120.0L163.0 104.0L167.0 88.0L159.0 72.0Z"/>
<path fill="#fff183" d="M172.0 90.0L177.0 88.0L179.0 96.0L177.0 104.0L172.0 102.0Z"/>
<path fill="#afdcf4" d="M199.0 60.0L211.0 68.0L223.0 60.0L235.0 72.0L231.0 88.0L219.0 100.0L211.0 112.0L203.0 104.0L207.0 88.0L199.0 76.0ZM239.0 80.0L251.0 72.0L263.0 84.0L271.0 100.0L267.0 116.0L259.0 128.0L255.0 144.0L259.0 160.0L251.0 176.0L239.0 168.0L235.0 152.0L243.0 136.0L239.0 120.0L247.0 104.0L235.0 92.0ZM279.0 80.0L291.0 76.0L307.0 88.0L319.0 100.0L331.0 96.0L347.0 104.0L347.0 148.0L335.0 140.0L323.0 144.0L311.0 136.0L303.0 148.0L307.0 164.0L299.0 180.0L287.0 192.0L275.0 188.0L267.0 176.0L275.0 160.0L283.0 144.0L279.0 128.0L287.0 112.0L279.0 96.0ZM-3.0 160.0L19.0 164.0L31.0 156.0L47.0 152.0L59.0 164.0L71.0 156.0L83.0 160.0L95.0 172.0L99.0 184.0L87.0 180.0L75.0 176.0L67.0 188.0L59.0 204.0L-3.0 204.0ZM79.0 144.0L91.0 140.0L103.0 148.0L111.0 160.0L123.0 168.0L139.0 166.0L159.0 164.0L179.0 160.0L199.0 164.0L219.0 160.0L231.0 172.0L219.0 176.0L199.0 172.0L179.0 170.0L159.0 174.0L139.0 176.0L119.0 180.0L103.0 176.0L91.0 164.0ZM175.0 204.0L179.0 192.0L191.0 188.0L205.0 192.0L207.0 204.0ZM29.0 52.0L43.0 50.0L43.0 100.0L33.0 96.0L27.0 80.0ZM215.0 120.0L227.0 116.0L235.0 128.0L231.0 144.0L223.0 160.0L215.0 152.0L219.0 136.0ZM247.0 204.0L251.0 188.0L259.0 192.0L263.0 204.0ZM342.0 -2.0L356.0 -2.0L360.0 20.0L370.0 26.0L384.0 36.0L396.0 40.0L404.0 52.0L396.0 60.0L384.0 52.0L368.0 48.0L356.0 44.0L342.0 48.0ZM380.0 36.0L412.0 48.0L428.0 60.0L440.0 56.0L448.0 40.0L456.0 52.0L448.0 68.0L444.0 84.0L432.0 96.0L428.0 112.0L432.0 128.0L424.0 140.0L416.0 128.0L420.0 112.0L416.0 96.0L404.0 88.0L400.0 76.0L404.0 64.0L392.0 56.0ZM342.0 100.0L356.0 96.0L368.0 108.0L370.0 124.0L364.0 140.0L372.0 156.0L364.0 176.0L352.0 172.0L342.0 176.0ZM384.0 136.0L396.0 128.0L412.0 136.0L424.0 144.0L432.0 160.0L424.0 172.0L412.0 164.0L400.0 172.0L388.0 168.0L380.0 152.0ZM504.0 -2.0L564.0 -2.0L570.0 16.0L580.0 20.0L588.0 8.0L592.0 -2.0L672.0 -2.0L676.0 20.0L684.0 26.0L684.0 60.0L672.0 52.0L656.0 48.0L644.0 58.0L632.0 52.0L620.0 50.0L604.0 48.0L596.0 40.0L584.0 48.0L572.0 58.0L564.0 68.0L556.0 60.0L548.0 44.0L536.0 34.0L524.0 26.0L508.0 20.0ZM464.0 60.0L484.0 64.0L504.0 58.0L524.0 60.0L540.0 56.0L552.0 64.0L564.0 80.0L572.0 94.0L584.0 104.0L604.0 108.0L624.0 104.0L624.0 96.0L604.0 94.0L588.0 88.0L576.0 80.0L568.0 84.0L560.0 96.0L544.0 104.0L528.0 108.0L516.0 100.0L500.0 96.0L484.0 96.0L472.0 104.0L464.0 92.0L472.0 80.0L464.0 68.0ZM444.0 116.0L456.0 112.0L464.0 124.0L472.0 140.0L484.0 128.0L496.0 124.0L516.0 120.0L520.0 136.0L508.0 144.0L496.0 140.0L484.0 152.0L476.0 168.0L468.0 180.0L472.0 196.0L464.0 204.0L456.0 188.0L448.0 172.0L452.0 152.0L444.0 136.0ZM536.0 120.0L544.0 118.0L546.0 136.0L544.0 156.0L552.0 152.0L560.0 144.0L556.0 160.0L552.0 176.0L544.0 192.0L536.0 204.0ZM568.0 120.0L580.0 124.0L584.0 140.0L576.0 156.0L570.0 144.0ZM620.0 124.0L636.0 120.0L656.0 124.0L686.0 120.0L686.0 156.0L672.0 160.0L656.0 152.0L640.0 148.0L632.0 160.0L624.0 172.0L628.0 188.0L620.0 196.0L604.0 188.0L596.0 176.0L592.0 160.0L596.0 148.0L608.0 140.0L616.0 132.0ZM628.0 180.0L644.0 176.0L656.0 184.0L672.0 176.0L686.0 180.0L686.0 200.0L644.0 198.0L632.0 192.0ZM488.0 160.0L504.0 156.0L516.0 164.0L524.0 180.0L516.0 192.0L504.0 188.0L492.0 180.0ZM444.0 -2.0L456.0 -2.0L456.0 24.0L448.0 26.0Z"/>
<path fill="#fff183" d="M-3.0 200.0L347.0 200.0L347.0 406.0L-3.0 406.0Z"/>
<path fill="#afdcf4" d="M43.0 240.0L51.0 234.0L63.0 236.0L79.0 238.0L87.0 228.0L95.0 232.0L93.0 248.0L87.0 260.0L75.0 262.0L65.0 258.0L59.0 248.0L47.0 248.0ZM165.0 206.0L175.0 200.0L207.0 200.0L207.0 212.0L199.0 216.0L187.0 214.0L179.0 208.0L171.0 216.0L165.0 212.0ZM121.0 216.0L128.0 214.0L129.0 226.0L123.0 228.0ZM11.0 200.0L19.0 200.0L19.0 208.0L11.0 208.0ZM55.0 200.0L65.0 200.0L65.0 206.0L56.0 206.0Z"/>
<path fill="#fff183" d="M342.0 200.0L692.0 200.0L692.0 406.0L342.0 406.0Z"/>
<path fill="#afdcf4" d="M504.0 222.0L512.0 214.0L524.0 208.0L532.0 206.0L532.0 228.0L524.0 238.0L520.0 250.0L520.0 260.0L514.0 262.0L512.0 246.0L504.0 234.0ZM535.0 200.0L556.0 200.0L560.0 210.0L570.0 202.0L580.0 210.0L592.0 208.0L600.0 216.0L598.0 224.0L584.0 226.0L535.0 226.0ZM544.0 236.0L560.0 230.0L592.0 230.0L590.0 238.0L564.0 240.0L560.0 250.0L546.0 250.0ZM620.0 230.0L640.0 229.0L638.0 238.0L624.0 238.0ZM492.0 246.0L498.0 242.0L502.0 250.0L498.0 262.0L491.0 260.0ZM482.0 224.0L488.0 224.0L488.0 240.0L482.4 240.0ZM452.0 200.0L460.0 200.0L460.0 214.0L453.0 214.0ZM672.0 200.0L686.0 200.0L686.0 210.0L674.0 210.0ZM652.0 210.0L658.0 210.0L658.0 222.0L652.4 222.0ZM612.0 214.0L618.0 214.0L618.0 224.0L612.4 224.0Z"/>
</g>
<use href="#land"/>
<path fill="#fff183" d="M25.0 269.0L49.0 277.0L79.0 278.0L87.0 282.0L65.0 286.0L63.0 296.0L45.0 298.0L44.0 308.0L39.0 308.0L37.0 296.0L11.0 296.0L11.0 288.0L23.0 286.0Z"/>
<use href="#coast"/>
<path d="M350.6 3.2h0M522.6 3.2h0M557.0 3.2h0M591.4 3.2h0M625.8 3.2h0M660.2 3.2h0M230.2 20.4h0M471.0 20.4h0M539.8 20.4h0M643.0 20.4h0M213.0 37.6h0M281.8 37.6h0M350.6 37.6h0M453.8 37.6h0M522.6 37.6h0M625.8 37.6h0M58.2 54.8h0M230.2 54.8h0M367.8 54.8h0M539.8 54.8h0M75.4 72.0h0M109.8 72.0h0M178.6 72.0h0M281.8 72.0h0M350.6 72.0h0M522.6 72.0h0M591.4 72.0h0M625.8 72.0h0M58.2 89.2h0M195.8 89.2h0M230.2 89.2h0M505.4 89.2h0M539.8 89.2h0M643.0 89.2h0M75.4 106.4h0M109.8 106.4h0M144.2 106.4h0M213.0 106.4h0M453.8 106.4h0M557.0 106.4h0M127.0 123.6h0M195.8 123.6h0M264.6 123.6h0M299.0 123.6h0M574.2 123.6h0M608.6 123.6h0M643.0 123.6h0M677.4 123.6h0M281.8 140.8h0M316.2 140.8h0M557.0 140.8h0M591.4 140.8h0M625.8 140.8h0M58.2 158.0h0M127.0 158.0h0M195.8 158.0h0M299.0 158.0h0M333.4 158.0h0M367.8 158.0h0M402.2 158.0h0M471.0 158.0h0M574.2 158.0h0M281.8 175.2h0M316.2 175.2h0M385.0 175.2h0M419.4 175.2h0M453.8 175.2h0M488.2 175.2h0M557.0 175.2h0M127.0 192.4h0M161.4 192.4h0M436.6 192.4h0M471.0 192.4h0M505.4 192.4h0M574.2 192.4h0M488.2 209.6h0M574.2 226.8h0" stroke="#fff" stroke-width="7" stroke-linecap="round" fill="none"/>
</g>
<use href="#ax0"/>
<use href="#box"/>
<text class="t" x="-37.5" y="11.6" text-anchor="end" style="letter-spacing:0.2px">30°S</text>
<text class="t" x="-37.5" y="182.6" text-anchor="end" style="letter-spacing:0.2px">60°S</text>
<text class="t" x="-37.5" y="353.6" text-anchor="end" style="letter-spacing:0.2px">90°S</text>
<text class="t" x="38.0" y="404.5" text-anchor="middle">60°W</text>
<text class="t" x="152.1" y="404.5" text-anchor="middle">0°</text>
<text class="t" x="266.2" y="404.5" text-anchor="middle">60°E</text>
<text class="t" x="380.3" y="404.5" text-anchor="middle">120°E</text>
<text class="t" x="494.4" y="404.5" text-anchor="middle">180°</text>
<text class="t" x="608.4" y="404.5" text-anchor="middle">120°W</text>
<text class="ti" x="342.2" y="-7" text-anchor="middle">Diffusion</text>
<text class="l" x="-163" y="-27">g</text>
</g>
<g transform="translate(1033 1489)">
<g clip-path="url(#clip)">
<rect x="0" y="0" width="685" height="342" fill="#afdcf4"/>
<g>
<path fill="#fff183" d="M-3.0 -2.0L14.0 -2.0L13.0 40.0L10.0 80.0L8.0 112.0L11.0 130.0L19.0 152.0L27.0 172.0L35.0 204.0L-3.0 204.0ZM49.0 20.0L59.0 -2.0L67.0 -2.0L71.0 16.0L79.0 32.0L87.0 48.0L95.0 60.0L93.0 74.0L79.0 78.0L67.0 80.0L59.0 92.0L51.0 88.0L51.0 76.0L59.0 66.0L65.0 52.0L59.0 44.0L51.0 52.0L47.0 66.0L39.0 60.0L43.0 40.0ZM29.0 112.0L41.0 108.0L43.0 128.0L39.0 148.0L29.0 144.0ZM139.0 -2.0L183.0 -2.0L183.0 30.0L191.0 40.0L199.0 42.0L207.0 34.0L209.0 52.0L225.0 56.0L233.0 70.0L239.0 76.0L257.0 78.0L259.0 94.0L253.0 112.0L251.0 132.0L245.0 148.0L231.0 144.0L219.0 136.0L207.0 134.0L195.0 138.0L187.0 132.0L179.0 140.0L171.0 152.0L159.0 160.0L147.0 164.0L135.0 170.0L111.0 172.0L87.0 176.0L59.0 180.0L47.0 170.0L43.0 180.0L51.0 204.0L139.0 204.0L139.0 180.0L151.0 170.0L163.0 158.0L169.0 148.0L171.0 140.0L169.0 130.0L159.0 124.0L151.0 112.0L143.0 100.0L135.0 88.0L127.0 80.0L119.0 88.0L113.0 78.0L115.0 68.0L123.0 64.0L135.0 70.0L151.0 72.0L157.0 60.0L159.0 44.0L155.0 28.0L147.0 16.0ZM217.0 -2.0L231.0 -2.0L229.0 16.0L233.0 30.0L239.0 44.0L243.0 20.0L251.0 -2.0L305.0 -2.0L311.0 20.0L319.0 36.0L311.0 48.0L299.0 54.0L291.0 58.0L279.0 48.0L267.0 44.0L259.0 32.0L253.0 20.0L247.0 28.0L241.0 46.0L233.0 44.0L223.0 20.0ZM337.0 -2.0L347.0 -2.0L347.0 44.0L339.0 40.0ZM269.0 102.0L276.0 100.0L277.0 114.0L270.0 116.0ZM185.0 155.0L191.0 154.0L191.0 162.0L185.4 162.0ZM247.0 180.0L259.0 172.0L279.0 168.0L289.0 158.0L295.0 168.0L299.0 184.0L311.0 192.0L319.0 180.0L323.0 164.0L331.0 160.0L339.0 172.0L347.0 180.0L347.0 204.0L251.0 204.0ZM342.0 -2.0L370.0 -2.0L370.0 26.0L388.0 32.0L412.0 48.0L416.0 56.0L404.0 54.0L388.0 50.0L376.0 44.0L360.0 40.0L342.0 44.0ZM444.0 22.0L452.0 26.0L460.0 44.0L464.0 68.0L460.0 86.0L448.0 96.0L440.0 104.0L436.0 112.0L430.0 104.0L424.0 96.0L418.0 84.0L420.0 68.0L428.0 56.0L440.0 50.0L442.0 36.0ZM472.0 -2.0L612.0 -2.0L608.0 12.0L596.0 20.0L584.0 28.0L572.0 34.0L556.0 36.0L544.0 32.0L528.0 34.0L516.0 30.0L504.0 22.0L492.0 12.0L480.0 12.0ZM604.0 108.0L612.0 102.0L624.0 104.0L640.0 104.0L656.0 96.0L672.0 90.0L686.0 94.0L686.0 118.0L604.0 118.0ZM574.0 128.0L584.0 118.0L686.0 116.0L686.0 204.0L536.0 204.0L536.0 176.0L544.0 172.0L552.0 160.0L556.0 150.0L562.0 160.0L558.0 172.0L564.0 180.0L576.0 182.0L592.0 178.0L604.0 174.0L608.0 164.0L602.0 152.0L592.0 150.0L584.0 156.0L576.0 152.0L574.0 140.0Z"/>
<path fill="#afdcf4" d="M542.0 193.0L554.0 192.0L554.0 204.0L542.0 204.0Z"/>
<path fill="#fff183" d="M342.0 180.0L364.0 176.0L380.0 168.0L388.0 174.0L388.0 188.0L404.0 194.0L412.0 204.0L342.0 204.0ZM408.0 164.0L416.0 152.0L424.0 158.0L426.0 168.0L418.0 174.0L410.0 172.0ZM482.0 194.0L496.0 188.0L508.0 180.0L520.0 176.0L530.0 176.0L530.0 204.0L488.0 204.0ZM-3.0 200.0L347.0 200.0L347.0 406.0L-3.0 406.0Z"/>
<path fill="#afdcf4" d="M41.0 216.0L47.0 214.0L53.0 230.0L57.0 250.0L55.0 268.0L49.0 266.0L47.0 250.0L43.0 234.0ZM75.0 268.0L79.0 258.0L85.0 268.0L85.0 280.0L77.0 278.0ZM141.0 200.0L179.0 200.0L175.0 208.0L187.0 206.0L195.0 212.0L199.0 200.0L231.0 200.0L229.0 210.0L211.0 218.0L199.0 222.0L187.0 224.0L175.0 218.0L163.0 222.0L153.0 224.0L147.0 214.0ZM95.0 254.0L107.0 252.0L107.0 266.0L97.0 266.0ZM342.0 200.0L692.0 200.0L692.0 406.0L342.0 406.0Z"/>
<path fill="#fff183" d="M342.0 200.0L408.0 200.0L408.0 207.0L342.0 207.0ZM432.0 208.0L440.0 204.0L448.0 208.0L446.0 216.0L436.0 216.0ZM464.0 222.0L474.0 220.0L482.0 228.0L484.0 242.0L482.0 254.0L488.0 266.0L490.0 282.0L476.0 282.0L474.0 262.0L476.0 242.0ZM460.0 282.0L488.0 282.0L500.0 284.0L516.0 282.0L524.0 278.0L536.0 286.0L542.0 294.0L544.0 322.0L524.0 322.0L504.0 311.0L492.0 306.0L472.0 304.0L462.0 298.0L456.0 290.0ZM514.0 200.0L524.0 200.0L524.0 218.0L516.0 228.0L508.0 236.0L504.0 230.0L508.0 220.0L514.0 214.0ZM502.0 246.0L510.0 240.0L518.0 248.0L522.0 262.0L516.0 270.0L508.0 268.0L504.0 258.0ZM556.0 200.0L686.0 200.0L686.0 226.0L648.0 226.0L648.0 218.0L644.0 214.0L624.0 212.0L604.0 212.0L584.0 210.0L568.0 216.0L560.0 210.0ZM536.0 200.0L542.0 200.0L544.0 214.0L536.0 216.0ZM570.0 242.0L584.0 238.0L604.0 236.0L624.0 236.0L644.0 234.0L652.0 228.0L686.0 228.0L686.0 246.0L644.0 258.0L604.0 258.0L584.0 254.0L564.0 258.0L552.0 262.0L550.0 250.0Z"/>
</g>
<use href="#land"/>
<path fill="#fff183" d="M25.0 269.0L49.0 277.0L79.0 278.0L87.0 282.0L65.0 286.0L63.0 296.0L45.0 298.0L44.0 308.0L39.0 308.0L37.0 296.0L11.0 296.0L11.0 288.0L23.0 286.0Z"/>
<path fill="#afdcf4" d="M75.0 278.0L87.0 279.0L86.0 284.0L76.0 284.0Z"/>
<use href="#coast"/>
<path d="M102.2 3.2h0M515.0 3.2h0M549.4 3.2h0M652.6 3.2h0M119.4 20.4h0M291.4 20.4h0M360.2 20.4h0M635.4 20.4h0M669.8 20.4h0M171.0 37.6h0M618.2 37.6h0M652.6 37.6h0M257.0 54.8h0M360.2 54.8h0M566.6 54.8h0M601.0 54.8h0M635.4 54.8h0M669.8 54.8h0M274.2 72.0h0M308.6 72.0h0M343.0 72.0h0M446.2 72.0h0M549.4 72.0h0M583.8 72.0h0M618.2 72.0h0M652.6 72.0h0M188.2 89.2h0M222.6 89.2h0M325.8 89.2h0M360.2 89.2h0M429.0 89.2h0M532.2 89.2h0M566.6 89.2h0M601.0 89.2h0M635.4 89.2h0M67.8 106.4h0M102.2 106.4h0M205.4 106.4h0M308.6 106.4h0M343.0 106.4h0M411.8 106.4h0M515.0 106.4h0M50.6 123.6h0M85.0 123.6h0M119.4 123.6h0M222.6 123.6h0M325.8 123.6h0M394.6 123.6h0M497.8 123.6h0M635.4 123.6h0M669.8 123.6h0M67.8 140.8h0M102.2 140.8h0M136.6 140.8h0M274.2 140.8h0M308.6 140.8h0M343.0 140.8h0M377.4 140.8h0M549.4 140.8h0M652.6 140.8h0M85.0 158.0h0M119.4 158.0h0M188.2 158.0h0M360.2 158.0h0M635.4 158.0h0M669.8 158.0h0M411.8 175.2h0M652.6 175.2h0M153.8 192.4h0M325.8 192.4h0M429.0 192.4h0M635.4 192.4h0M669.8 192.4h0M239.8 209.6h0" stroke="#fff" stroke-width="7" stroke-linecap="round" fill="none"/>
</g>
<use href="#ax1"/>
<use href="#box"/>
<text class="t" x="-37.5" y="11.6" text-anchor="end" style="letter-spacing:0.2px">30°S</text>
<text class="t" x="-37.5" y="182.6" text-anchor="end" style="letter-spacing:0.2px">60°S</text>
<text class="t" x="-37.5" y="353.6" text-anchor="end" style="letter-spacing:0.2px">90°S</text>
<text class="t" x="36.5" y="404.5" text-anchor="middle">60°W</text>
<text class="t" x="150.6" y="404.5" text-anchor="middle">0°</text>
<text class="t" x="264.7" y="404.5" text-anchor="middle">60°E</text>
<text class="t" x="378.8" y="404.5" text-anchor="middle">120°E</text>
<text class="t" x="492.9" y="404.5" text-anchor="middle">180°</text>
<text class="t" x="606.9" y="404.5" text-anchor="middle">120°W</text>
<text class="ti" x="342.2" y="-7" text-anchor="middle">Entrainment</text>
<text class="l" x="-165" y="-20">h</text>
</g>
<g>
<polygon points="79,1963.4 192.7,1947.0 192.7,1979.8" fill="#7d2df0"/>
<rect x="195.8" y="1946.0" width="111.9" height="34.8" fill="#1400ff"/>
<rect x="310.9" y="1946.0" width="114.8" height="34.8" fill="#3c5ae0"/>
<rect x="307.7" y="1946.0" width="3.2" height="34.8" fill="#3c5ae0" opacity="0.35"/>
<rect x="428.9" y="1946.0" width="115.6" height="34.8" fill="#2d7df0"/>
<rect x="425.7" y="1946.0" width="3.2" height="34.8" fill="#2d7df0" opacity="0.35"/>
<rect x="547.7" y="1946.0" width="115.3" height="34.8" fill="#1eaaf5"/>
<rect x="544.5" y="1946.0" width="3.2" height="34.8" fill="#1eaaf5" opacity="0.35"/>
<rect x="666.2" y="1946.0" width="111.7" height="34.8" fill="#5cbcf0"/>
<rect x="663.0" y="1946.0" width="3.2" height="34.8" fill="#5cbcf0" opacity="0.35"/>
<rect x="781.1" y="1946.0" width="115.7" height="34.8" fill="#afdcf4"/>
<rect x="777.9" y="1946.0" width="3.2" height="34.8" fill="#afdcf4" opacity="0.35"/>
<rect x="900.0" y="1946.0" width="117.9" height="34.8" fill="#fff183"/>
<rect x="896.8" y="1946.0" width="3.2" height="34.8" fill="#fff183" opacity="0.35"/>
<rect x="1021.1" y="1946.0" width="114.7" height="34.8" fill="#fdca24"/>
<rect x="1017.9" y="1946.0" width="3.2" height="34.8" fill="#fdca24" opacity="0.35"/>
<rect x="1139.0" y="1946.0" width="112.0" height="34.8" fill="#ff960a"/>
<rect x="1135.8" y="1946.0" width="3.2" height="34.8" fill="#ff960a" opacity="0.35"/>
<rect x="1254.2" y="1946.0" width="114.9" height="34.8" fill="#ff5000"/>
<rect x="1251.0" y="1946.0" width="3.2" height="34.8" fill="#ff5000" opacity="0.35"/>
<rect x="1372.3" y="1946.0" width="115.6" height="34.8" fill="#f00000"/>
<rect x="1369.1" y="1946.0" width="3.2" height="34.8" fill="#f00000" opacity="0.35"/>
<rect x="1491.1" y="1946.0" width="112.8" height="34.8" fill="#c80f0f"/>
<rect x="1487.9" y="1946.0" width="3.2" height="34.8" fill="#c80f0f" opacity="0.35"/>
<polygon points="1607.1,1947.0 1607.1,1979.8 1720,1963.4" fill="#ffa0aa"/>
<text class="cb" x="192.5" y="2025.5" text-anchor="middle">-0.6</text>
<text class="cb" x="310.1" y="2025.5" text-anchor="middle">-0.5</text>
<text class="cb" x="427.8" y="2025.5" text-anchor="middle">-0.4</text>
<text class="cb" x="545.5" y="2025.5" text-anchor="middle">-0.3</text>
<text class="cb" x="663.1" y="2025.5" text-anchor="middle">-0.2</text>
<text class="cb" x="780.8" y="2025.5" text-anchor="middle">-0.1</text>
<text class="cb" x="898.4" y="2025.5" text-anchor="middle">0</text>
<text class="cb" x="1016.1" y="2025.5" text-anchor="middle">0.1</text>
<text class="cb" x="1133.7" y="2025.5" text-anchor="middle">0.2</text>
<text class="cb" x="1251.4" y="2025.5" text-anchor="middle">0.3</text>
<text class="cb" x="1369.0" y="2025.5" text-anchor="middle">0.4</text>
<text class="cb" x="1486.7" y="2025.5" text-anchor="middle">0.5</text>
<text class="cb" x="1604.3" y="2025.5" text-anchor="middle">0.6</text>
<text x="811" y="1927.6" style="font-size:45px">(<tspan style="font-size:27px" dy="-14" dx="1">°</tspan><tspan dy="14" dx="2">C/10yr)</tspan></text>
</g>
</svg>
</body></html>
